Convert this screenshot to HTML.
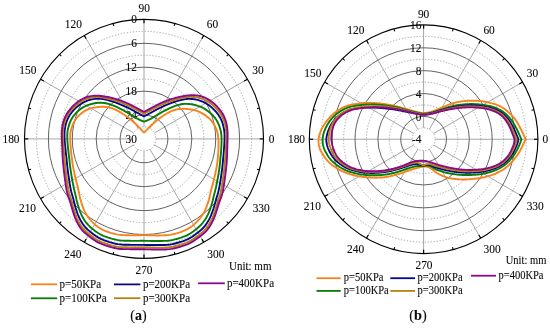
<!DOCTYPE html>
<html><head><meta charset="utf-8"><title>Polar plots</title>
<style>html,body{margin:0;padding:0;background:#fff}svg{display:block}</style>
</head><body>
<svg width="550" height="328" viewBox="0 0 550 328">
<style>
text{font-family:"Liberation Serif",serif;fill:#0a0a0a;stroke:#0a0a0a;stroke-width:.1}
.dot{fill:none;stroke:#969696;stroke-width:.85;stroke-dasharray:1.25 1.75}
.spoke{stroke:#9c9c9c;stroke-width:.9}
.sol{fill:none;stroke:#505050;stroke-width:.9}
.outer{fill:none;stroke:#000;stroke-width:1.15}
.tick{stroke:#000;stroke-width:1.2}
.mtick{stroke:#000;stroke-width:1.05}
.cv{fill:none;stroke-width:1.9;stroke-linejoin:round}
.lg{stroke-width:1.8}
</style>
<rect width="550" height="328" fill="#fff"/>
<circle cx="144.00" cy="138.90" r="11.95" class="dot"/>
<circle cx="144.00" cy="138.90" r="35.85" class="dot"/>
<circle cx="144.00" cy="138.90" r="59.75" class="dot"/>
<circle cx="144.00" cy="138.90" r="83.65" class="dot"/>
<circle cx="144.00" cy="138.90" r="107.55" class="dot"/>
<line x1="155.95" y1="138.90" x2="263.50" y2="138.90" class="spoke"/>
<line x1="154.35" y1="132.93" x2="247.49" y2="79.15" class="spoke"/>
<line x1="149.97" y1="128.55" x2="203.75" y2="35.41" class="spoke"/>
<line x1="144.00" y1="126.95" x2="144.00" y2="19.40" class="spoke"/>
<line x1="138.03" y1="128.55" x2="84.25" y2="35.41" class="spoke"/>
<line x1="133.65" y1="132.93" x2="40.51" y2="79.15" class="spoke"/>
<line x1="132.05" y1="138.90" x2="24.50" y2="138.90" class="spoke"/>
<line x1="133.65" y1="144.88" x2="40.51" y2="198.65" class="spoke"/>
<line x1="138.03" y1="149.25" x2="84.25" y2="242.39" class="spoke"/>
<line x1="144.00" y1="150.85" x2="144.00" y2="258.40" class="spoke"/>
<line x1="149.97" y1="149.25" x2="203.75" y2="242.39" class="spoke"/>
<line x1="154.35" y1="144.88" x2="247.49" y2="198.65" class="spoke"/>
<circle cx="144.00" cy="138.90" r="23.90" class="sol"/>
<circle cx="144.00" cy="138.90" r="47.80" class="sol"/>
<circle cx="144.00" cy="138.90" r="71.70" class="sol"/>
<circle cx="144.00" cy="138.90" r="95.60" class="sol"/>
<text transform="translate(136.90 23.46) scale(0.950 1)" font-size="12.00" text-anchor="end">0</text>
<text transform="translate(136.90 47.36) scale(0.950 1)" font-size="12.00" text-anchor="end">6</text>
<text transform="translate(136.90 71.26) scale(0.950 1)" font-size="12.00" text-anchor="end">12</text>
<text transform="translate(136.90 95.16) scale(0.950 1)" font-size="12.00" text-anchor="end">18</text>
<text transform="translate(136.90 119.06) scale(0.950 1)" font-size="12.00" text-anchor="end">24</text>
<text transform="translate(136.90 142.96) scale(0.950 1)" font-size="12.00" text-anchor="end">30</text>
<path d="M144.00 132.60L143.89 132.48L143.77 132.36L143.65 132.23L143.52 132.10L143.39 131.96L143.25 131.81L143.11 131.66L142.96 131.49L142.80 131.32L142.63 131.14L142.45 130.95L142.27 130.75L142.07 130.53L141.86 130.31L141.63 130.06L141.39 129.81L141.13 129.53L140.86 129.24L140.56 128.92L140.24 128.57L139.90 128.21L139.52 127.81L139.11 127.38L138.66 126.91L138.17 126.40L137.64 125.86L137.05 125.26L136.41 124.62L135.70 123.93L134.94 123.22L134.13 122.48L133.24 121.68L132.26 120.82L131.19 119.91L130.03 118.95L128.79 117.97L127.47 116.97L126.09 115.97L124.64 114.99L123.10 113.99L121.44 112.95L119.67 111.88L117.84 110.85L115.99 109.90L114.17 109.07L112.43 108.41L110.75 107.89L109.11 107.48L107.50 107.17L105.93 106.95L104.39 106.82L102.86 106.76L101.36 106.77L99.86 106.83L98.37 106.95L96.88 107.12L95.39 107.33L93.91 107.60L92.44 107.92L90.99 108.30L89.57 108.73L88.20 109.23L86.88 109.79L85.62 110.43L84.43 111.12L83.29 111.87L82.19 112.67L81.14 113.50L80.12 114.38L79.15 115.30L78.21 116.25L77.31 117.23L76.46 118.25L75.67 119.31L74.95 120.40L74.29 121.52L73.69 122.67L73.15 123.84L72.66 125.03L72.22 126.24L71.80 127.47L71.40 128.70L71.05 129.94L70.75 131.20L70.52 132.47L70.37 133.75L70.27 135.04L70.21 136.32L70.19 137.61L70.20 138.90L70.24 140.19L70.29 141.47L70.36 142.76L70.44 144.04L70.53 145.33L70.62 146.61L70.73 147.90L70.84 149.18L70.96 150.47L71.09 151.76L71.23 153.05L71.37 154.34L71.52 155.63L71.67 156.93L71.84 158.24L72.01 159.54L72.18 160.86L72.37 162.17L72.57 163.50L72.77 164.83L72.99 166.16L73.23 167.49L73.48 168.83L73.75 170.18L74.03 171.53L74.32 172.88L74.63 174.25L74.94 175.62L75.26 177.00L75.59 178.39L75.93 179.80L76.28 181.22L76.63 182.65L76.99 184.10L77.35 185.57L77.71 187.06L78.07 188.58L78.43 190.13L78.77 191.72L79.11 193.35L79.43 195.03L79.76 196.74L80.16 198.43L80.63 200.10L81.13 201.77L81.65 203.46L82.20 205.17L82.79 206.88L83.43 208.57L84.14 210.24L84.92 211.85L85.78 213.41L86.70 214.93L87.68 216.41L88.72 217.85L89.81 219.24L90.96 220.58L92.16 221.86L93.41 223.09L94.70 224.29L96.04 225.43L97.42 226.51L98.85 227.51L100.32 228.45L101.84 229.31L103.40 230.09L105.00 230.78L106.62 231.42L108.26 232.01L109.91 232.55L111.58 233.05L113.26 233.51L114.94 233.94L116.64 234.33L118.34 234.66L120.06 234.90L121.80 235.06L123.54 235.16L125.28 235.22L127.01 235.26L128.73 235.31L130.45 235.33L132.16 235.33L133.87 235.32L135.57 235.29L137.26 235.26L138.95 235.22L140.64 235.18L142.32 235.13L144.00 235.10L145.68 235.16L147.36 235.21L149.05 235.27L150.74 235.32L152.44 235.36L154.14 235.40L155.85 235.43L157.57 235.44L159.29 235.43L161.01 235.39L162.75 235.37L164.50 235.32L166.24 235.24L167.98 235.09L169.71 234.86L171.43 234.55L173.13 234.18L174.82 233.76L176.51 233.32L178.19 232.83L179.86 232.31L181.51 231.74L183.14 231.12L184.76 230.44L186.33 229.68L187.87 228.84L189.36 227.93L190.82 226.95L192.22 225.90L193.59 224.79L194.92 223.64L196.20 222.44L197.45 221.20L198.64 219.91L199.78 218.57L200.87 217.18L201.91 215.74L202.88 214.27L203.80 212.75L204.65 211.18L205.41 209.55L206.11 207.88L206.76 206.20L207.36 204.51L207.93 202.83L208.48 201.17L209.00 199.51L209.44 197.82L209.80 196.10L210.16 194.42L210.53 192.77L210.90 191.17L211.29 189.61L211.68 188.07L212.07 186.56L212.46 185.08L212.84 183.61L213.22 182.15L213.59 180.71L213.95 179.28L214.30 177.87L214.64 176.46L214.97 175.06L215.29 173.67L215.60 172.29L215.89 170.91L216.17 169.53L216.43 168.17L216.68 166.80L216.91 165.44L217.11 164.08L217.31 162.72L217.48 161.37L217.64 160.02L217.79 158.67L217.92 157.33L218.04 155.99L218.14 154.66L218.23 153.33L218.30 152.00L218.37 150.68L218.42 149.36L218.47 148.04L218.50 146.73L218.52 145.42L218.53 144.11L218.52 142.81L218.50 141.50L218.45 140.20L218.38 138.90L218.27 137.60L218.13 136.31L217.95 135.02L217.71 133.75L217.42 132.48L217.05 131.22L216.61 129.98L216.11 128.77L215.57 127.56L215.01 126.38L214.43 125.21L213.79 124.07L213.10 122.95L212.34 121.86L211.51 120.81L210.62 119.80L209.66 118.83L208.64 117.90L207.57 117.01L206.47 116.16L205.34 115.35L204.20 114.58L203.04 113.84L201.85 113.14L200.64 112.49L199.40 111.88L198.11 111.33L196.77 110.84L195.39 110.42L193.97 110.05L192.54 109.74L191.09 109.47L189.65 109.26L188.21 109.08L186.78 108.94L185.36 108.85L183.95 108.80L182.54 108.79L181.12 108.84L179.69 108.95L178.23 109.14L176.74 109.42L175.22 109.79L173.66 110.26L172.03 110.87L170.32 111.65L168.57 112.55L166.84 113.53L165.18 114.54L163.61 115.53L162.16 116.47L160.80 117.39L159.50 118.33L158.27 119.26L157.11 120.18L156.03 121.07L155.03 121.91L154.12 122.70L153.30 123.43L152.55 124.10L151.85 124.74L151.20 125.36L150.60 125.94L150.06 126.48L149.56 126.97L149.11 127.43L148.69 127.86L148.30 128.26L147.94 128.63L147.62 128.96L147.31 129.29L147.03 129.58L146.77 129.85L146.52 130.12L146.29 130.35L146.07 130.58L145.87 130.78L145.68 130.98L145.50 131.16L145.33 131.34L145.17 131.50L145.02 131.65L144.87 131.80L144.73 131.93L144.60 132.06L144.47 132.18L144.35 132.30L144.23 132.42L144.11 132.52L144.00 132.60Z" class="cv" stroke="#F8821C"/>
<path d="M144.00 121.60L143.70 121.49L143.39 121.38L143.08 121.26L142.76 121.14L142.43 121.01L142.11 120.88L141.77 120.75L141.43 120.60L141.08 120.46L140.72 120.30L140.35 120.14L139.98 119.97L139.59 119.79L139.19 119.59L138.77 119.38L138.34 119.17L137.90 118.93L137.43 118.69L136.95 118.43L136.45 118.14L135.91 117.82L135.34 117.47L134.75 117.11L134.13 116.72L133.47 116.32L132.78 115.89L132.05 115.44L131.27 114.96L130.45 114.45L129.58 113.93L128.67 113.39L127.70 112.81L126.66 112.20L125.56 111.56L124.38 110.89L123.14 110.19L121.84 109.49L120.48 108.79L119.07 108.11L117.58 107.42L116.01 106.70L114.36 105.99L112.66 105.29L110.92 104.65L109.19 104.09L107.47 103.63L105.79 103.27L104.15 103.02L102.54 102.86L100.96 102.78L99.40 102.79L97.88 102.86L96.38 103.01L94.90 103.23L93.45 103.50L92.02 103.84L90.60 104.22L89.20 104.66L87.82 105.14L86.46 105.68L85.14 106.27L83.85 106.92L82.61 107.62L81.43 108.38L80.31 109.20L79.22 110.06L78.18 110.96L77.17 111.90L76.20 112.87L75.27 113.88L74.37 114.93L73.52 116.00L72.72 117.11L71.99 118.25L71.32 119.42L70.71 120.63L70.15 121.85L69.65 123.10L69.20 124.36L68.81 125.64L68.47 126.94L68.15 128.24L67.87 129.55L67.64 130.87L67.46 132.20L67.34 133.54L67.28 134.88L67.26 136.22L67.27 137.56L67.30 138.90L67.37 140.24L67.46 141.57L67.57 142.91L67.68 144.24L67.80 145.57L67.93 146.89L68.07 148.22L68.21 149.55L68.35 150.88L68.49 152.21L68.65 153.55L68.81 154.88L68.97 156.22L69.15 157.56L69.34 158.91L69.46 160.27L69.60 161.65L69.74 163.03L69.90 164.42L70.06 165.81L70.24 167.22L70.42 168.63L70.63 170.05L70.84 171.47L71.06 172.91L71.29 174.36L71.54 175.82L71.79 177.30L72.04 178.79L72.31 180.29L72.59 181.81L72.88 183.34L73.17 184.90L73.49 186.46L73.82 188.04L74.18 189.63L74.56 191.23L74.96 192.84L75.37 194.48L75.76 196.16L76.14 197.89L76.51 199.67L76.93 201.45L77.40 203.22L77.89 205.01L78.43 206.80L79.00 208.60L79.62 210.40L80.30 212.18L81.04 213.94L81.85 215.65L82.74 217.32L83.69 218.94L84.70 220.52L85.79 222.04L86.94 223.50L88.17 224.88L89.46 226.19L90.80 227.44L92.19 228.65L93.61 229.81L95.06 230.94L96.55 232.02L98.08 233.05L99.66 234.00L101.28 234.86L102.94 235.63L104.64 236.32L106.36 236.96L108.09 237.55L109.84 238.10L111.60 238.62L113.37 239.09L115.14 239.53L116.93 239.92L118.74 240.23L120.55 240.46L122.38 240.61L124.21 240.69L126.04 240.75L127.86 240.79L129.68 240.82L131.48 240.84L133.28 240.86L135.08 240.86L136.87 240.85L138.66 240.83L140.44 240.81L142.22 240.79L144.00 240.78L145.78 240.84L147.56 240.87L149.35 240.91L151.14 240.94L152.93 240.97L154.73 240.99L156.54 240.99L158.35 240.98L160.17 240.97L161.99 240.95L163.83 240.92L165.67 240.85L167.51 240.72L169.34 240.51L171.15 240.22L172.95 239.85L174.73 239.43L176.51 238.97L178.28 238.47L180.04 237.93L181.79 237.35L183.52 236.73L185.24 236.05L186.92 235.29L188.56 234.45L190.15 233.52L191.70 232.51L193.21 231.45L194.69 230.35L196.14 229.21L197.56 228.04L198.94 226.82L200.27 225.55L201.54 224.20L202.74 222.79L203.87 221.30L204.94 219.77L205.94 218.18L206.88 216.55L207.75 214.87L208.55 213.15L209.28 211.40L209.95 209.62L210.57 207.84L211.16 206.06L211.70 204.28L212.21 202.51L212.67 200.73L213.08 198.95L213.49 197.21L213.91 195.52L214.35 193.87L214.79 192.24L215.20 190.63L215.59 189.03L215.95 187.43L216.29 185.85L216.61 184.27L216.92 182.72L217.23 181.18L217.51 179.65L217.79 178.14L218.06 176.64L218.32 175.15L218.57 173.67L218.80 172.20L219.03 170.75L219.24 169.30L219.44 167.86L219.62 166.42L219.79 165.00L219.94 163.57L220.08 162.16L220.20 160.75L220.31 159.35L220.47 157.97L220.62 156.59L220.75 155.21L220.87 153.84L220.98 152.47L221.07 151.11L221.16 149.74L221.25 148.38L221.33 147.03L221.40 145.67L221.46 144.32L221.51 142.96L221.55 141.61L221.57 140.25L221.58 138.90L221.52 137.55L221.45 136.20L221.34 134.85L221.19 133.50L220.98 132.17L220.71 130.84L220.38 129.52L220.01 128.22L219.59 126.93L219.15 125.65L218.67 124.39L218.12 123.14L217.52 121.93L216.86 120.73L216.14 119.57L215.36 118.44L214.51 117.34L213.60 116.29L212.64 115.27L211.64 114.28L210.61 113.33L209.56 112.41L208.48 111.53L207.38 110.68L206.24 109.87L205.08 109.11L203.87 108.39L202.62 107.73L201.32 107.13L199.99 106.57L198.63 106.07L197.26 105.62L195.87 105.21L194.48 104.85L193.07 104.54L191.65 104.28L190.21 104.08L188.76 103.93L187.28 103.85L185.79 103.84L184.27 103.90L182.72 104.04L181.13 104.27L179.52 104.60L177.85 105.05L176.18 105.57L174.51 106.19L172.86 106.85L171.26 107.54L169.74 108.22L168.31 108.88L166.94 109.53L165.63 110.20L164.37 110.87L163.17 111.52L162.04 112.16L160.97 112.77L159.97 113.34L159.03 113.88L158.15 114.38L157.32 114.88L156.52 115.35L155.77 115.80L155.06 116.22L154.39 116.62L153.75 117.00L153.14 117.37L152.56 117.71L152.00 118.05L151.48 118.36L150.98 118.62L150.51 118.87L150.05 119.11L149.61 119.33L149.19 119.54L148.78 119.74L148.38 119.92L148.00 120.09L147.62 120.25L147.26 120.41L146.91 120.55L146.56 120.68L146.22 120.82L145.89 120.94L145.56 121.06L145.24 121.18L144.92 121.29L144.61 121.40L144.30 121.51L144.00 121.60Z" class="cv" stroke="#067D06"/>
<path d="M144.00 116.41L143.60 116.19L143.20 115.97L142.79 115.75L142.36 115.52L141.93 115.28L141.49 115.04L141.04 114.80L140.58 114.55L140.10 114.29L139.62 114.03L139.11 113.76L138.60 113.48L138.06 113.18L137.51 112.87L136.94 112.55L136.35 112.23L135.74 111.88L135.11 111.53L134.45 111.16L133.77 110.78L133.06 110.39L132.32 109.99L131.56 109.58L130.76 109.17L129.94 108.75L129.09 108.32L128.20 107.89L127.27 107.44L126.31 106.98L125.30 106.52L124.26 106.05L123.17 105.56L122.03 105.07L120.84 104.56L119.59 104.04L118.29 103.52L116.94 102.99L115.54 102.48L114.10 101.97L112.60 101.48L111.05 101.00L109.45 100.53L107.81 100.09L106.12 99.67L104.41 99.31L102.72 99.03L101.04 98.84L99.39 98.73L97.78 98.72L96.19 98.78L94.63 98.92L93.10 99.13L91.61 99.42L90.16 99.78L88.74 100.21L87.37 100.70L86.02 101.25L84.70 101.84L83.41 102.49L82.14 103.19L80.91 103.93L79.71 104.71L78.55 105.55L77.44 106.44L76.37 107.37L75.35 108.33L74.35 109.34L73.39 110.37L72.47 111.44L71.58 112.54L70.73 113.67L69.92 114.83L69.18 116.02L68.50 117.25L67.87 118.50L67.31 119.78L66.80 121.08L66.33 122.39L65.92 123.72L65.59 125.07L65.30 126.44L65.06 127.81L64.86 129.18L64.70 130.56L64.56 131.95L64.48 133.34L64.46 134.73L64.48 136.12L64.52 137.51L64.56 138.90L64.65 140.28L64.76 141.67L64.88 143.05L65.01 144.42L65.14 145.80L65.28 147.17L65.42 148.55L65.56 149.92L65.69 151.30L65.84 152.68L65.98 154.06L66.14 155.45L66.30 156.84L66.48 158.23L66.66 159.62L66.78 161.04L66.90 162.47L67.04 163.90L67.19 165.35L67.35 166.80L67.52 168.26L67.69 169.73L67.88 171.21L68.08 172.70L68.28 174.21L68.49 175.73L68.71 177.26L68.94 178.81L69.18 180.37L69.43 181.95L69.69 183.55L69.96 185.17L70.25 186.80L70.56 188.44L70.90 190.09L71.28 191.73L71.72 193.37L72.20 195.00L72.69 196.65L73.16 198.35L73.60 200.10L74.04 201.90L74.50 203.71L74.99 205.54L75.50 207.40L76.06 209.26L76.65 211.13L77.28 213.00L77.99 214.84L78.76 216.65L79.59 218.44L80.49 220.18L81.47 221.88L82.51 223.53L83.63 225.11L84.83 226.62L86.12 228.03L87.47 229.36L88.88 230.63L90.34 231.84L91.83 233.02L93.34 234.18L94.87 235.32L96.44 236.41L98.06 237.43L99.72 238.34L101.44 239.16L103.19 239.90L104.97 240.57L106.77 241.20L108.57 241.79L110.39 242.34L112.22 242.85L114.06 243.33L115.90 243.75L117.77 244.11L119.65 244.39L121.54 244.57L123.44 244.68L125.34 244.74L127.23 244.77L129.12 244.80L130.99 244.85L132.86 244.88L134.73 244.90L136.59 244.91L138.44 244.91L140.30 244.90L142.15 244.90L144.00 244.90L145.85 244.96L147.70 244.98L149.56 245.00L151.42 245.02L153.29 245.04L155.16 245.04L157.03 245.04L158.91 245.02L160.81 245.01L162.71 245.00L164.62 244.96L166.53 244.88L168.43 244.72L170.32 244.47L172.20 244.13L174.06 243.72L175.91 243.26L177.75 242.76L179.58 242.22L181.40 241.65L183.21 241.03L185.00 240.37L186.77 239.65L188.50 238.84L190.18 237.94L191.82 236.94L193.40 235.86L194.96 234.74L196.50 233.60L198.01 232.45L199.50 231.27L200.95 230.03L202.34 228.74L203.66 227.36L204.91 225.88L206.07 224.34L207.17 222.73L208.19 221.06L209.15 219.35L210.03 217.59L210.85 215.81L211.61 213.99L212.30 212.14L212.93 210.28L213.54 208.44L214.09 206.59L214.63 204.76L215.13 202.94L215.60 201.14L216.08 199.38L216.59 197.68L217.11 196.02L217.62 194.37L218.08 192.73L218.50 191.07L218.87 189.40L219.21 187.74L219.53 186.09L219.82 184.46L220.11 182.84L220.38 181.24L220.64 179.65L220.88 178.07L221.12 176.51L221.35 174.97L221.57 173.43L221.77 171.91L221.97 170.40L222.16 168.90L222.33 167.41L222.50 165.93L222.65 164.45L222.78 162.99L222.90 161.52L223.00 160.07L223.17 158.64L223.33 157.21L223.47 155.79L223.59 154.37L223.71 152.95L223.82 151.54L223.92 150.13L224.02 148.72L224.12 147.32L224.22 145.92L224.31 144.52L224.40 143.11L224.48 141.71L224.54 140.31L224.59 138.90L224.59 137.49L224.58 136.09L224.55 134.68L224.48 133.27L224.35 131.87L224.16 130.47L223.95 129.08L223.69 127.70L223.40 126.32L223.07 124.96L222.69 123.60L222.23 122.27L221.71 120.96L221.15 119.66L220.53 118.39L219.86 117.15L219.12 115.93L218.32 114.75L217.46 113.60L216.56 112.49L215.62 111.41L214.66 110.35L213.66 109.33L212.64 108.34L211.59 107.38L210.50 106.47L209.37 105.59L208.20 104.77L206.98 103.99L205.74 103.26L204.46 102.57L203.15 101.94L201.82 101.35L200.47 100.81L199.08 100.33L197.67 99.91L196.21 99.56L194.72 99.27L193.19 99.07L191.63 98.93L190.05 98.87L188.45 98.88L186.81 98.98L185.14 99.17L183.45 99.45L181.75 99.81L180.06 100.23L178.42 100.67L176.82 101.14L175.28 101.62L173.79 102.12L172.35 102.62L170.95 103.13L169.61 103.66L168.31 104.18L167.07 104.69L165.89 105.20L164.75 105.69L163.67 106.17L162.63 106.64L161.63 107.10L160.67 107.55L159.75 108.00L158.86 108.43L158.01 108.86L157.19 109.27L156.40 109.68L155.64 110.09L154.91 110.48L154.20 110.87L153.52 111.24L152.87 111.61L152.24 111.95L151.63 112.30L151.04 112.62L150.47 112.94L149.92 113.24L149.39 113.53L148.88 113.81L148.38 114.08L147.89 114.33L147.42 114.58L146.96 114.83L146.50 115.07L146.06 115.30L145.63 115.53L145.21 115.76L144.80 115.99L144.40 116.20L144.00 116.41Z" class="cv" stroke="#07078C"/>
<path d="M144.00 113.75L143.56 113.52L143.11 113.27L142.64 113.02L142.17 112.77L141.69 112.51L141.20 112.25L140.70 111.99L140.18 111.72L139.65 111.44L139.11 111.16L138.55 110.87L137.98 110.57L137.39 110.25L136.78 109.92L136.15 109.58L135.49 109.24L134.82 108.87L134.12 108.50L133.40 108.12L132.65 107.73L131.88 107.33L131.08 106.92L130.25 106.51L129.40 106.10L128.51 105.69L127.60 105.28L126.66 104.86L125.68 104.44L124.66 104.02L123.61 103.59L122.53 103.16L121.40 102.73L120.22 102.29L119.01 101.85L117.74 101.40L116.43 100.95L115.07 100.50L113.66 100.07L112.21 99.65L110.72 99.24L109.19 98.85L107.61 98.49L105.99 98.14L104.33 97.82L102.64 97.54L100.94 97.31L99.24 97.16L97.57 97.09L95.94 97.12L94.33 97.22L92.75 97.39L91.19 97.64L89.68 97.97L88.22 98.37L86.80 98.85L85.43 99.39L84.09 99.99L82.78 100.65L81.51 101.35L80.26 102.10L79.05 102.90L77.87 103.74L76.73 104.62L75.63 105.56L74.58 106.53L73.56 107.54L72.57 108.58L71.62 109.66L70.70 110.76L69.81 111.90L68.96 113.06L68.16 114.26L67.43 115.49L66.76 116.75L66.14 118.04L65.58 119.35L65.08 120.68L64.62 122.03L64.21 123.39L63.89 124.77L63.63 126.17L63.41 127.57L63.24 128.98L63.09 130.40L62.97 131.81L62.90 133.23L62.88 134.65L62.90 136.07L62.95 137.49L62.98 138.90L63.06 140.31L63.15 141.72L63.25 143.13L63.36 144.54L63.47 145.95L63.59 147.35L63.71 148.76L63.82 150.17L63.93 151.58L64.04 153.00L64.15 154.42L64.27 155.85L64.40 157.28L64.55 158.71L64.70 160.15L64.81 161.61L64.93 163.07L65.07 164.55L65.22 166.03L65.37 167.52L65.53 169.02L65.70 170.53L65.88 172.06L66.06 173.60L66.26 175.15L66.46 176.72L66.66 178.30L66.88 179.91L67.10 181.52L67.34 183.16L67.59 184.81L67.85 186.48L68.13 188.17L68.44 189.86L68.79 191.56L69.20 193.24L69.68 194.91L70.21 196.55L70.76 198.21L71.29 199.92L71.78 201.68L72.26 203.49L72.75 205.34L73.27 207.21L73.80 209.10L74.37 211.01L74.97 212.92L75.63 214.83L76.36 216.72L77.15 218.57L78.01 220.40L78.93 222.19L79.92 223.94L80.99 225.62L82.14 227.24L83.38 228.78L84.70 230.21L86.11 231.54L87.57 232.81L89.08 234.02L90.62 235.20L92.17 236.38L93.74 237.55L95.34 238.68L96.98 239.73L98.68 240.68L100.44 241.53L102.23 242.28L104.05 242.97L105.89 243.61L107.74 244.22L109.60 244.79L111.47 245.32L113.34 245.81L115.24 246.25L117.14 246.63L119.06 246.93L121.00 247.12L122.94 247.24L124.89 247.29L126.83 247.32L128.76 247.34L130.68 247.39L132.59 247.43L134.50 247.45L136.41 247.46L138.31 247.46L140.21 247.46L142.11 247.45L144.00 247.45L145.90 247.52L147.79 247.54L149.70 247.57L151.60 247.59L153.51 247.61L155.43 247.61L157.35 247.60L159.27 247.59L161.21 247.59L163.17 247.59L165.12 247.56L167.08 247.48L169.03 247.30L170.96 247.03L172.88 246.67L174.78 246.24L176.67 245.77L178.56 245.26L180.43 244.70L182.29 244.11L184.14 243.48L185.98 242.80L187.79 242.06L189.56 241.22L191.28 240.28L192.94 239.24L194.56 238.13L196.15 236.98L197.72 235.82L199.29 234.66L200.83 233.47L202.32 232.24L203.77 230.93L205.13 229.53L206.41 228.03L207.60 226.44L208.72 224.79L209.76 223.07L210.73 221.31L211.64 219.51L212.48 217.68L213.26 215.82L213.96 213.93L214.62 212.03L215.23 210.13L215.81 208.24L216.36 206.38L216.89 204.53L217.41 202.72L217.94 200.95L218.50 199.23L219.09 197.56L219.65 195.91L220.16 194.23L220.60 192.54L220.98 190.83L221.32 189.11L221.63 187.41L221.92 185.72L222.19 184.04L222.45 182.39L222.70 180.74L222.93 179.12L223.16 177.51L223.37 175.91L223.58 174.33L223.78 172.76L223.96 171.21L224.14 169.66L224.31 168.13L224.48 166.61L224.63 165.10L224.76 163.59L224.88 162.09L224.98 160.60L225.13 159.13L225.25 157.66L225.37 156.20L225.47 154.74L225.56 153.28L225.64 151.83L225.72 150.39L225.80 148.94L225.89 147.51L225.98 146.07L226.07 144.64L226.15 143.21L226.22 141.77L226.28 140.34L226.33 138.90L226.34 137.46L226.35 136.02L226.35 134.58L226.30 133.14L226.20 131.71L226.05 130.28L225.87 128.85L225.67 127.42L225.43 126.00L225.14 124.59L224.78 123.20L224.35 121.82L223.86 120.46L223.33 119.12L222.74 117.80L222.09 116.51L221.39 115.24L220.62 114.00L219.80 112.80L218.92 111.63L218.00 110.49L217.05 109.38L216.07 108.31L215.06 107.26L214.02 106.25L212.95 105.27L211.83 104.34L210.67 103.45L209.47 102.61L208.23 101.82L206.96 101.07L205.66 100.37L204.33 99.72L202.96 99.13L201.56 98.59L200.12 98.13L198.63 97.73L197.10 97.42L195.53 97.18L193.92 97.01L192.29 96.92L190.64 96.90L188.95 96.98L187.24 97.14L185.52 97.38L183.81 97.67L182.13 98.01L180.50 98.36L178.92 98.73L177.37 99.13L175.87 99.55L174.41 99.98L172.99 100.43L171.62 100.88L170.30 101.34L169.03 101.80L167.80 102.25L166.62 102.70L165.49 103.14L164.39 103.58L163.34 104.01L162.32 104.44L161.34 104.87L160.39 105.30L159.47 105.71L158.59 106.13L157.74 106.54L156.91 106.96L156.11 107.36L155.33 107.76L154.59 108.16L153.87 108.54L153.17 108.91L152.50 109.27L151.85 109.61L151.22 109.95L150.61 110.27L150.02 110.59L149.44 110.89L148.89 111.18L148.35 111.46L147.82 111.73L147.30 112.00L146.80 112.26L146.31 112.52L145.83 112.78L145.36 113.03L144.89 113.28L144.44 113.52L144.00 113.75Z" class="cv" stroke="#B8820F"/>
<path d="M144.00 112.00L143.53 111.74L143.04 111.46L142.55 111.19L142.04 110.90L141.53 110.62L141.00 110.33L140.46 110.03L139.90 109.73L139.33 109.43L138.75 109.12L138.15 108.80L137.53 108.47L136.89 108.12L136.24 107.76L135.56 107.39L134.86 107.01L134.13 106.62L133.38 106.22L132.61 105.82L131.81 105.40L130.98 104.97L130.12 104.55L129.24 104.12L128.32 103.69L127.39 103.27L126.42 102.86L125.42 102.44L124.39 102.03L123.33 101.61L122.24 101.20L121.10 100.79L119.93 100.39L118.73 99.98L117.48 99.58L116.19 99.18L114.85 98.78L113.47 98.39L112.05 98.01L110.59 97.65L109.09 97.30L107.56 96.98L106.00 96.70L104.40 96.44L102.75 96.19L101.07 95.97L99.37 95.80L97.66 95.69L95.99 95.67L94.35 95.74L92.73 95.88L91.14 96.09L89.58 96.38L88.07 96.75L86.60 97.20L85.19 97.72L83.83 98.32L82.51 98.97L81.23 99.67L79.97 100.43L78.75 101.23L77.57 102.08L76.41 102.96L75.29 103.89L74.22 104.86L73.18 105.88L72.17 106.92L71.20 108.00L70.26 109.11L69.35 110.24L68.47 111.41L67.63 112.60L66.85 113.83L66.12 115.09L65.47 116.38L64.87 117.70L64.32 119.03L63.83 120.39L63.37 121.76L62.98 123.15L62.67 124.56L62.42 125.98L62.24 127.41L62.09 128.84L61.96 130.28L61.85 131.71L61.79 133.15L61.78 134.59L61.82 136.03L61.86 137.47L61.90 138.90L61.94 140.33L62.00 141.76L62.06 143.19L62.12 144.63L62.20 146.06L62.27 147.49L62.35 148.93L62.41 150.37L62.46 151.81L62.52 153.27L62.58 154.73L62.65 156.19L62.73 157.66L62.82 159.14L62.92 160.63L63.03 162.12L63.16 163.61L63.31 165.12L63.47 166.63L63.63 168.15L63.81 169.68L63.98 171.23L64.16 172.79L64.35 174.36L64.55 175.95L64.75 177.55L64.96 179.17L65.18 180.81L65.41 182.46L65.65 184.14L65.90 185.83L66.17 187.53L66.46 189.25L66.79 190.98L67.17 192.70L67.61 194.40L68.13 196.08L68.71 197.72L69.32 199.37L69.90 201.07L70.45 202.83L70.98 204.65L71.51 206.50L72.05 208.38L72.60 210.30L73.18 212.23L73.80 214.18L74.47 216.12L75.21 218.03L76.02 219.91L76.89 221.77L77.83 223.60L78.83 225.38L79.92 227.10L81.09 228.74L82.35 230.30L83.71 231.74L85.15 233.08L86.65 234.35L88.19 235.56L89.76 236.75L91.34 237.93L92.93 239.13L94.55 240.28L96.22 241.36L97.95 242.34L99.73 243.20L101.55 243.97L103.40 244.68L105.26 245.33L107.14 245.95L109.03 246.53L110.93 247.07L112.84 247.58L114.76 248.03L116.69 248.44L118.64 248.75L120.61 248.95L122.58 249.07L124.56 249.13L126.54 249.14L128.50 249.17L130.46 249.21L132.40 249.26L134.34 249.28L136.28 249.30L138.21 249.30L140.14 249.30L142.07 249.30L144.00 249.30L145.93 249.37L147.86 249.39L149.79 249.42L151.73 249.44L153.67 249.46L155.62 249.46L157.57 249.45L159.53 249.43L161.51 249.44L163.49 249.45L165.48 249.43L167.47 249.33L169.45 249.15L171.42 248.87L173.36 248.49L175.30 248.05L177.22 247.56L179.13 247.03L181.04 246.47L182.93 245.86L184.81 245.22L186.67 244.52L188.51 243.76L190.31 242.91L192.05 241.94L193.74 240.88L195.38 239.73L196.99 238.56L198.59 237.39L200.19 236.22L201.76 235.03L203.30 233.79L204.77 232.48L206.17 231.07L207.47 229.54L208.68 227.93L209.81 226.24L210.87 224.49L211.85 222.69L212.76 220.85L213.62 218.99L214.41 217.10L215.13 215.18L215.80 213.25L216.42 211.32L217.02 209.41L217.60 207.53L218.17 205.68L218.73 203.86L219.32 202.10L219.93 200.39L220.58 198.73L221.20 197.07L221.75 195.39L222.22 193.67L222.63 191.94L222.99 190.19L223.31 188.46L223.60 186.73L223.88 185.02L224.15 183.33L224.39 181.65L224.63 179.98L224.86 178.34L225.08 176.71L225.29 175.09L225.49 173.49L225.68 171.90L225.87 170.33L226.05 168.76L226.22 167.21L226.39 165.67L226.54 164.13L226.67 162.60L226.78 161.08L226.87 159.56L226.95 158.05L227.02 156.55L227.07 155.05L227.11 153.56L227.15 152.07L227.19 150.59L227.23 149.12L227.28 147.65L227.33 146.19L227.38 144.73L227.43 143.27L227.47 141.81L227.50 140.36L227.52 138.90L227.54 137.44L227.57 135.98L227.59 134.52L227.57 133.06L227.50 131.59L227.38 130.14L227.24 128.68L227.08 127.22L226.87 125.77L226.62 124.33L226.30 122.90L225.89 121.49L225.43 120.10L224.92 118.72L224.37 117.37L223.76 116.03L223.09 114.72L222.35 113.44L221.55 112.20L220.71 110.98L219.81 109.80L218.89 108.64L217.93 107.52L216.95 106.42L215.93 105.36L214.87 104.33L213.77 103.35L212.63 102.41L211.45 101.51L210.24 100.66L208.99 99.85L207.70 99.09L206.38 98.39L205.02 97.74L203.62 97.15L202.17 96.64L200.67 96.20L199.11 95.84L197.51 95.56L195.88 95.37L194.22 95.24L192.55 95.19L190.83 95.23L189.09 95.35L187.36 95.54L185.64 95.78L183.96 96.05L182.32 96.34L180.74 96.64L179.18 96.98L177.65 97.34L176.17 97.73L174.72 98.13L173.32 98.54L171.97 98.96L170.66 99.38L169.39 99.80L168.17 100.23L166.98 100.65L165.83 101.08L164.72 101.51L163.65 101.94L162.61 102.38L161.60 102.81L160.63 103.23L159.69 103.66L158.77 104.10L157.88 104.53L157.03 104.97L156.20 105.39L155.39 105.81L154.62 106.22L153.87 106.62L153.14 107.01L152.44 107.39L151.76 107.76L151.11 108.12L150.47 108.47L149.85 108.80L149.25 109.12L148.67 109.43L148.10 109.73L147.54 110.03L147.00 110.33L146.47 110.62L145.96 110.90L145.45 111.19L144.96 111.46L144.47 111.74L144.00 112.00Z" class="cv" stroke="#8B078B"/>
<circle cx="144.00" cy="138.90" r="119.50" class="outer"/>
<line x1="259.70" y1="138.90" x2="263.50" y2="138.90" class="tick"/>
<line x1="256.92" y1="108.64" x2="259.43" y2="107.97" class="mtick"/>
<line x1="244.20" y1="81.05" x2="247.49" y2="79.15" class="tick"/>
<line x1="226.66" y1="56.24" x2="228.50" y2="54.40" class="mtick"/>
<line x1="201.85" y1="38.70" x2="203.75" y2="35.41" class="tick"/>
<line x1="174.26" y1="25.98" x2="174.93" y2="23.47" class="mtick"/>
<line x1="144.00" y1="23.20" x2="144.00" y2="19.40" class="tick"/>
<line x1="113.74" y1="25.98" x2="113.07" y2="23.47" class="mtick"/>
<line x1="86.15" y1="38.70" x2="84.25" y2="35.41" class="tick"/>
<line x1="61.34" y1="56.24" x2="59.50" y2="54.40" class="mtick"/>
<line x1="43.80" y1="81.05" x2="40.51" y2="79.15" class="tick"/>
<line x1="31.08" y1="108.64" x2="28.57" y2="107.97" class="mtick"/>
<line x1="28.30" y1="138.90" x2="24.50" y2="138.90" class="tick"/>
<line x1="31.08" y1="169.16" x2="28.57" y2="169.83" class="mtick"/>
<line x1="43.80" y1="196.75" x2="40.51" y2="198.65" class="tick"/>
<line x1="61.34" y1="221.56" x2="59.50" y2="223.40" class="mtick"/>
<line x1="86.15" y1="239.10" x2="84.25" y2="242.39" class="tick"/>
<line x1="113.74" y1="251.82" x2="113.07" y2="254.33" class="mtick"/>
<line x1="144.00" y1="254.60" x2="144.00" y2="258.40" class="tick"/>
<line x1="174.26" y1="251.82" x2="174.93" y2="254.33" class="mtick"/>
<line x1="201.85" y1="239.10" x2="203.75" y2="242.39" class="tick"/>
<line x1="226.66" y1="221.56" x2="228.50" y2="223.40" class="mtick"/>
<line x1="244.20" y1="196.75" x2="247.49" y2="198.65" class="tick"/>
<line x1="256.92" y1="169.16" x2="259.43" y2="169.83" class="mtick"/>
<text transform="translate(144.20 11.56) scale(0.950 1)" font-size="12.00" text-anchor="middle">90</text>
<text transform="translate(212.50 28.26) scale(0.950 1)" font-size="12.00" text-anchor="middle">60</text>
<text transform="translate(258.00 73.96) scale(0.950 1)" font-size="12.00" text-anchor="middle">30</text>
<text transform="translate(271.50 143.06) scale(0.950 1)" font-size="12.00" text-anchor="middle">0</text>
<text transform="translate(261.20 212.06) scale(0.950 1)" font-size="12.00" text-anchor="middle">330</text>
<text transform="translate(215.80 257.86) scale(0.950 1)" font-size="12.00" text-anchor="middle">300</text>
<text transform="translate(144.00 274.26) scale(0.950 1)" font-size="12.00" text-anchor="middle">270</text>
<text transform="translate(72.90 258.16) scale(0.950 1)" font-size="12.00" text-anchor="middle">240</text>
<text transform="translate(27.50 212.06) scale(0.950 1)" font-size="12.00" text-anchor="middle">210</text>
<text transform="translate(11.00 142.86) scale(0.950 1)" font-size="12.00" text-anchor="middle">180</text>
<text transform="translate(27.80 74.36) scale(0.950 1)" font-size="12.00" text-anchor="middle">150</text>
<text transform="translate(73.40 28.36) scale(0.950 1)" font-size="12.00" text-anchor="middle">120</text>
<line x1="30.90" y1="284.30" x2="57.20" y2="284.30" stroke="#F8821C" class="lg"/><text transform="translate(59.50 287.80) scale(0.917 1)" font-size="11.99" text-anchor="start">p=50KPa</text>
<line x1="30.90" y1="298.30" x2="57.20" y2="298.30" stroke="#067D06" class="lg"/><text transform="translate(59.50 301.80) scale(0.917 1)" font-size="11.99" text-anchor="start">p=100KPa</text>
<line x1="114.00" y1="284.40" x2="140.40" y2="284.40" stroke="#07078C" class="lg"/><text transform="translate(142.90 287.90) scale(0.917 1)" font-size="11.99" text-anchor="start">p=200KPa</text>
<line x1="114.00" y1="298.20" x2="140.40" y2="298.20" stroke="#B8820F" class="lg"/><text transform="translate(142.90 301.90) scale(0.917 1)" font-size="11.99" text-anchor="start">p=300KPa</text>
<line x1="198.10" y1="283.30" x2="224.80" y2="283.30" stroke="#8B078B" class="lg"/><text transform="translate(226.90 286.70) scale(0.917 1)" font-size="11.99" text-anchor="start">p=400KPa</text>
<text transform="translate(229.00 269.60) scale(0.917 1)" font-size="11.99" text-anchor="start">Unit: mm</text>
<text x="138.4" y="320.3" font-size="14" text-anchor="middle">(<tspan font-weight="bold">a</tspan>)</text>
<circle cx="423.60" cy="139.25" r="11.43" class="dot"/>
<circle cx="423.60" cy="139.25" r="34.29" class="dot"/>
<circle cx="423.60" cy="139.25" r="57.15" class="dot"/>
<circle cx="423.60" cy="139.25" r="80.01" class="dot"/>
<circle cx="423.60" cy="139.25" r="102.87" class="dot"/>
<line x1="435.03" y1="139.25" x2="537.90" y2="139.25" class="spoke"/>
<line x1="433.50" y1="133.53" x2="522.59" y2="82.10" class="spoke"/>
<line x1="429.31" y1="129.35" x2="480.75" y2="40.26" class="spoke"/>
<line x1="423.60" y1="127.82" x2="423.60" y2="24.95" class="spoke"/>
<line x1="417.89" y1="129.35" x2="366.45" y2="40.26" class="spoke"/>
<line x1="413.70" y1="133.53" x2="324.61" y2="82.10" class="spoke"/>
<line x1="412.17" y1="139.25" x2="309.30" y2="139.25" class="spoke"/>
<line x1="413.70" y1="144.97" x2="324.61" y2="196.40" class="spoke"/>
<line x1="417.88" y1="149.15" x2="366.45" y2="238.24" class="spoke"/>
<line x1="423.60" y1="150.68" x2="423.60" y2="253.55" class="spoke"/>
<line x1="429.31" y1="149.15" x2="480.75" y2="238.24" class="spoke"/>
<line x1="433.50" y1="144.97" x2="522.59" y2="196.40" class="spoke"/>
<circle cx="423.60" cy="139.25" r="22.86" class="sol"/>
<circle cx="423.60" cy="139.25" r="45.72" class="sol"/>
<circle cx="423.60" cy="139.25" r="68.58" class="sol"/>
<circle cx="423.60" cy="139.25" r="91.44" class="sol"/>
<text transform="translate(421.50 29.18) scale(0.960 1)" font-size="11.90" text-anchor="end">16</text>
<text transform="translate(421.50 52.04) scale(0.960 1)" font-size="11.90" text-anchor="end">12</text>
<text transform="translate(421.50 74.90) scale(0.960 1)" font-size="11.90" text-anchor="end">8</text>
<text transform="translate(421.50 97.76) scale(0.960 1)" font-size="11.90" text-anchor="end">4</text>
<text transform="translate(421.50 120.62) scale(0.960 1)" font-size="11.90" text-anchor="end">0</text>
<text transform="translate(421.50 143.48) scale(0.960 1)" font-size="11.90" text-anchor="end">-4</text>
<path d="M525.60 139.65L525.35 138.76L524.96 137.88L524.57 137.01L524.18 136.14L523.79 135.28L523.40 134.42L523.02 133.57L522.63 132.73L522.23 131.89L521.84 131.06L521.43 130.23L521.02 129.41L520.60 128.60L520.17 127.79L519.75 126.99L519.32 126.20L518.90 125.41L518.47 124.62L518.03 123.85L517.58 123.08L517.13 122.32L516.66 121.56L516.18 120.81L515.68 120.08L515.17 119.35L514.63 118.63L514.07 117.93L513.49 117.24L512.89 116.56L512.28 115.89L511.66 115.23L511.02 114.58L510.38 113.95L509.72 113.32L509.06 112.71L508.39 112.10L507.71 111.51L507.02 110.93L506.32 110.36L505.62 109.80L504.90 109.25L504.17 108.72L503.43 108.20L502.66 107.71L501.88 107.23L501.07 106.77L500.24 106.33L499.39 105.91L498.52 105.51L497.62 105.13L496.70 104.78L495.76 104.46L494.80 104.15L493.84 103.86L492.87 103.59L491.89 103.34L490.93 103.09L489.96 102.86L489.01 102.64L488.07 102.43L487.15 102.22L486.22 102.02L485.31 101.84L484.39 101.66L483.48 101.50L482.56 101.36L481.65 101.23L480.73 101.12L479.81 101.02L478.89 100.94L477.97 100.87L477.05 100.81L476.15 100.77L475.25 100.73L474.36 100.70L473.47 100.68L472.60 100.68L471.73 100.68L470.87 100.68L470.02 100.70L469.17 100.73L468.33 100.77L467.50 100.81L466.67 100.87L465.85 100.94L465.03 101.01L464.23 101.09L463.44 101.18L462.65 101.27L461.88 101.37L461.11 101.48L460.35 101.60L459.59 101.72L458.85 101.85L458.11 101.99L457.38 102.14L456.65 102.30L455.93 102.46L455.21 102.63L454.51 102.82L453.80 103.01L453.10 103.22L452.40 103.44L451.70 103.68L451.02 103.92L450.34 104.17L449.67 104.42L449.01 104.68L448.36 104.94L447.73 105.19L447.11 105.45L446.50 105.70L445.91 105.94L445.33 106.18L444.77 106.41L444.23 106.64L443.69 106.86L443.17 107.07L442.67 107.28L442.18 107.47L441.70 107.66L441.23 107.84L440.77 108.03L440.31 108.22L439.86 108.41L439.42 108.60L438.99 108.78L438.57 108.96L438.15 109.14L437.74 109.32L437.35 109.49L436.95 109.66L436.57 109.82L436.20 109.98L435.83 110.13L435.47 110.28L435.11 110.42L434.77 110.56L434.43 110.69L434.09 110.82L433.77 110.94L433.45 111.06L433.13 111.17L432.82 111.27L432.52 111.37L432.22 111.46L431.92 111.55L431.63 111.64L431.35 111.72L431.06 111.80L430.78 111.87L430.51 111.95L430.23 112.02L429.96 112.08L429.70 112.15L429.43 112.21L429.17 112.27L428.91 112.33L428.65 112.39L428.40 112.44L428.14 112.49L427.89 112.54L427.64 112.59L427.40 112.64L427.15 112.68L426.91 112.72L426.66 112.76L426.42 112.80L426.18 112.84L425.94 112.87L425.71 112.90L425.47 112.93L425.23 112.96L425.00 112.99L424.76 113.01L424.53 113.03L424.30 113.05L424.06 113.07L423.83 113.08L423.60 113.09L423.37 113.10L423.14 113.11L422.91 113.11L422.67 113.11L422.44 113.10L422.21 113.09L421.97 113.07L421.74 113.05L421.50 113.02L421.27 112.98L421.03 112.94L420.79 112.89L420.55 112.84L420.30 112.78L420.05 112.72L419.81 112.66L419.56 112.59L419.30 112.52L419.05 112.46L418.79 112.39L418.54 112.32L418.28 112.26L418.01 112.20L417.75 112.13L417.49 112.07L417.22 112.01L416.95 111.95L416.68 111.88L416.40 111.82L416.12 111.75L415.84 111.68L415.56 111.61L415.27 111.54L414.98 111.47L414.69 111.39L414.39 111.32L414.09 111.24L413.79 111.16L413.48 111.08L413.17 111.00L412.86 110.91L412.54 110.83L412.21 110.74L411.89 110.66L411.55 110.57L411.22 110.48L410.88 110.39L410.53 110.29L410.18 110.20L409.82 110.10L409.46 110.00L409.09 109.90L408.72 109.80L408.34 109.70L407.95 109.59L407.56 109.49L407.16 109.38L406.76 109.26L406.34 109.15L405.92 109.02L405.48 108.89L405.04 108.76L404.59 108.63L404.13 108.49L403.66 108.35L403.18 108.20L402.68 108.05L402.18 107.90L401.67 107.75L401.15 107.59L400.62 107.44L400.08 107.28L399.53 107.12L398.97 106.97L398.40 106.81L397.83 106.66L397.24 106.51L396.65 106.37L396.05 106.22L395.44 106.09L394.82 105.95L394.19 105.82L393.55 105.68L392.89 105.55L392.23 105.41L391.55 105.28L390.86 105.15L390.16 105.02L389.44 104.89L388.71 104.76L387.97 104.63L387.21 104.51L386.44 104.39L385.65 104.26L384.86 104.15L384.04 104.03L383.22 103.92L382.38 103.81L381.52 103.71L380.66 103.62L379.78 103.52L378.88 103.44L377.97 103.35L377.04 103.27L376.10 103.20L375.14 103.13L374.17 103.07L373.18 103.02L372.18 102.97L371.17 102.94L370.14 102.91L369.11 102.89L368.07 102.89L367.02 102.91L365.97 102.93L364.92 102.98L363.87 103.05L362.81 103.13L361.76 103.22L360.70 103.33L359.63 103.46L358.56 103.60L357.48 103.75L356.39 103.91L355.28 104.09L354.16 104.27L353.01 104.46L351.85 104.65L350.69 104.87L349.55 105.12L348.44 105.40L347.37 105.71L346.34 106.06L345.35 106.44L344.40 106.85L343.48 107.28L342.57 107.73L341.68 108.20L340.80 108.69L339.94 109.20L339.09 109.72L338.25 110.26L337.42 110.81L336.60 111.38L335.80 111.97L335.01 112.57L334.24 113.18L333.49 113.81L332.75 114.45L332.02 115.11L331.32 115.78L330.63 116.47L329.95 117.17L329.29 117.88L328.65 118.60L328.02 119.33L327.41 120.08L326.82 120.84L326.24 121.61L325.69 122.39L325.15 123.17L324.63 123.97L324.12 124.78L323.62 125.60L323.14 126.42L322.67 127.26L322.22 128.10L321.79 128.95L321.37 129.81L320.97 130.67L320.60 131.54L320.25 132.42L319.94 133.31L319.65 134.20L319.40 135.10L319.17 136.00L318.97 136.91L318.81 137.82L318.67 138.73L318.56 139.65L318.51 140.57L318.50 141.48L318.54 142.40L318.63 143.32L318.76 144.23L318.92 145.14L319.12 146.04L319.33 146.94L319.57 147.84L319.85 148.73L320.18 149.61L320.58 150.48L321.03 151.34L321.51 152.18L322.02 153.02L322.52 153.86L323.03 154.68L323.55 155.50L324.08 156.30L324.62 157.10L325.18 157.89L325.76 158.67L326.36 159.43L326.99 160.19L327.64 160.92L328.34 161.64L329.07 162.34L329.82 163.03L330.59 163.70L331.38 164.36L332.18 165.00L333.00 165.63L333.83 166.24L334.68 166.84L335.53 167.42L336.40 167.98L337.29 168.53L338.18 169.06L339.09 169.58L340.01 170.07L340.95 170.55L341.89 171.01L342.85 171.46L343.81 171.89L344.78 172.30L345.76 172.69L346.74 173.07L347.73 173.43L348.72 173.77L349.72 174.10L350.73 174.41L351.73 174.70L352.74 174.98L353.75 175.24L354.77 175.48L355.78 175.71L356.80 175.92L357.82 176.11L358.83 176.30L359.84 176.46L360.84 176.62L361.84 176.76L362.83 176.89L363.81 177.01L364.78 177.12L365.75 177.22L366.71 177.31L367.66 177.38L368.59 177.45L369.52 177.51L370.45 177.56L371.36 177.61L372.26 177.64L373.16 177.66L374.04 177.68L374.92 177.69L375.78 177.69L376.64 177.68L377.49 177.66L378.33 177.64L379.16 177.61L379.98 177.57L380.79 177.52L381.60 177.47L382.39 177.41L383.18 177.34L383.96 177.26L384.74 177.18L385.50 177.09L386.27 176.98L387.03 176.86L387.79 176.73L388.54 176.59L389.29 176.44L390.04 176.28L390.77 176.11L391.50 175.94L392.21 175.76L392.92 175.57L393.61 175.39L394.29 175.20L394.96 175.01L395.62 174.83L396.26 174.64L396.89 174.46L397.51 174.28L398.11 174.10L398.69 173.93L399.26 173.77L399.82 173.61L400.38 173.44L400.92 173.27L401.46 173.10L401.99 172.93L402.51 172.75L403.02 172.58L403.53 172.40L404.03 172.23L404.51 172.05L404.99 171.88L405.46 171.71L405.92 171.54L406.37 171.38L406.82 171.21L407.25 171.06L407.67 170.91L408.09 170.76L408.50 170.61L408.90 170.48L409.29 170.34L409.67 170.21L410.05 170.09L410.42 169.97L410.78 169.85L411.14 169.74L411.48 169.64L411.83 169.53L412.17 169.43L412.50 169.33L412.83 169.23L413.16 169.14L413.48 169.04L413.80 168.94L414.11 168.85L414.42 168.76L414.73 168.67L415.03 168.58L415.33 168.49L415.63 168.40L415.92 168.32L416.21 168.23L416.49 168.15L416.78 168.07L417.06 167.99L417.33 167.91L417.61 167.84L417.88 167.76L418.15 167.69L418.42 167.62L418.68 167.55L418.94 167.48L419.20 167.41L419.46 167.35L419.72 167.29L419.97 167.23L420.22 167.17L420.47 167.11L420.72 167.06L420.97 167.00L421.21 166.95L421.46 166.90L421.70 166.86L421.94 166.81L422.18 166.77L422.42 166.74L422.66 166.70L422.89 166.67L423.13 166.64L423.36 166.61L423.60 166.59L423.83 166.57L424.07 166.56L424.30 166.55L424.54 166.54L424.77 166.53L425.01 166.53L425.24 166.53L425.48 166.54L425.72 166.55L425.96 166.57L426.20 166.60L426.44 166.63L426.68 166.68L426.93 166.73L427.17 166.79L427.42 166.86L427.68 166.94L427.94 167.03L428.20 167.13L428.46 167.24L428.74 167.36L429.01 167.48L429.29 167.61L429.57 167.75L429.86 167.88L430.15 168.03L430.45 168.18L430.76 168.36L431.08 168.56L431.40 168.77L431.74 169.01L432.09 169.27L432.45 169.54L432.83 169.83L433.21 170.14L433.61 170.46L434.02 170.80L434.44 171.14L434.87 171.48L435.31 171.83L435.76 172.17L436.21 172.50L436.66 172.82L437.12 173.12L437.58 173.40L438.04 173.67L438.50 173.91L438.96 174.16L439.44 174.40L439.92 174.64L440.41 174.88L440.90 175.12L441.40 175.35L441.91 175.58L442.42 175.80L442.94 176.02L443.47 176.24L444.00 176.45L444.53 176.65L445.07 176.84L445.62 177.03L446.17 177.21L446.72 177.39L447.28 177.55L447.84 177.71L448.41 177.85L448.98 177.99L449.55 178.12L450.12 178.24L450.70 178.36L451.28 178.46L451.87 178.56L452.46 178.66L453.06 178.75L453.66 178.83L454.27 178.91L454.88 178.98L455.50 179.05L456.13 179.11L456.76 179.17L457.40 179.22L458.04 179.27L458.69 179.31L459.35 179.35L460.02 179.39L460.69 179.42L461.37 179.45L462.05 179.47L462.74 179.48L463.44 179.49L464.14 179.49L464.84 179.48L465.55 179.46L466.27 179.44L466.99 179.41L467.72 179.37L468.45 179.33L469.19 179.28L469.93 179.22L470.68 179.16L471.44 179.09L472.21 179.01L472.98 178.93L473.76 178.84L474.56 178.75L475.36 178.66L476.18 178.55L477.00 178.45L477.83 178.33L478.67 178.21L479.52 178.08L480.37 177.94L481.23 177.80L482.10 177.64L482.97 177.47L483.85 177.30L484.72 177.11L485.60 176.90L486.47 176.68L487.34 176.45L488.21 176.20L489.08 175.95L489.95 175.68L490.82 175.39L491.69 175.10L492.56 174.79L493.42 174.46L494.28 174.12L495.13 173.77L495.98 173.40L496.82 173.02L497.66 172.62L498.48 172.21L499.30 171.78L500.13 171.35L500.95 170.90L501.76 170.44L502.56 169.96L503.34 169.46L504.11 168.95L504.86 168.43L505.59 167.88L506.30 167.32L507.00 166.75L507.67 166.16L508.33 165.56L508.98 164.94L509.61 164.31L510.23 163.68L510.85 163.03L511.46 162.37L512.06 161.70L512.65 161.03L513.23 160.34L513.81 159.65L514.39 158.95L514.96 158.24L515.52 157.52L516.07 156.79L516.62 156.05L517.16 155.31L517.69 154.55L518.21 153.79L518.72 153.02L519.20 152.24L519.67 151.45L520.12 150.65L520.56 149.84L520.99 149.03L521.41 148.21L521.82 147.38L522.23 146.55L522.63 145.71L523.03 144.86L523.42 144.01L523.82 143.15L524.21 142.28L524.61 141.41L525.01 140.54L525.60 139.65Z" class="cv" stroke="#F8821C"/>
<path d="M521.42 139.65L521.18 138.80L520.80 137.95L520.43 137.11L520.06 136.28L519.69 135.45L519.33 134.63L518.96 133.82L518.59 133.01L518.22 132.20L517.85 131.40L517.47 130.61L517.09 129.82L516.69 129.04L516.30 128.27L515.90 127.50L515.50 126.73L515.10 125.98L514.68 125.22L514.26 124.48L513.83 123.74L513.39 123.01L512.93 122.29L512.47 121.57L511.98 120.86L511.47 120.17L510.95 119.48L510.41 118.81L509.85 118.15L509.28 117.49L508.69 116.85L508.09 116.22L507.49 115.60L506.86 114.99L506.22 114.39L505.56 113.81L504.88 113.24L504.18 112.69L503.46 112.15L502.71 111.64L501.95 111.13L501.16 110.65L500.37 110.18L499.55 109.73L498.72 109.30L497.88 108.88L497.02 108.49L496.14 108.11L495.25 107.75L494.35 107.41L493.43 107.09L492.49 106.79L491.54 106.51L490.57 106.26L489.59 106.03L488.60 105.82L487.60 105.62L486.60 105.44L485.61 105.28L484.63 105.12L483.66 104.98L482.70 104.84L481.76 104.71L480.82 104.59L479.88 104.48L478.96 104.38L478.03 104.30L477.12 104.23L476.20 104.17L475.30 104.12L474.39 104.08L473.50 104.06L472.61 104.04L471.73 104.04L470.86 104.04L470.00 104.05L469.14 104.07L468.30 104.10L467.46 104.13L466.64 104.17L465.82 104.22L465.02 104.28L464.22 104.34L463.43 104.41L462.65 104.49L461.88 104.57L461.12 104.66L460.37 104.75L459.64 104.85L458.91 104.95L458.19 105.06L457.49 105.16L456.79 105.28L456.11 105.40L455.43 105.52L454.76 105.65L454.10 105.78L453.44 105.92L452.80 106.06L452.16 106.20L451.54 106.36L450.92 106.51L450.30 106.67L449.70 106.84L449.10 107.02L448.51 107.19L447.92 107.37L447.35 107.55L446.79 107.73L446.24 107.91L445.70 108.09L445.17 108.27L444.65 108.44L444.14 108.61L443.65 108.78L443.16 108.95L442.68 109.11L442.22 109.27L441.76 109.43L441.31 109.58L440.87 109.73L440.45 109.86L440.04 109.99L439.63 110.12L439.23 110.25L438.83 110.39L438.44 110.52L438.06 110.65L437.68 110.77L437.31 110.90L436.95 111.02L436.59 111.15L436.24 111.27L435.89 111.38L435.55 111.50L435.22 111.61L434.89 111.71L434.57 111.81L434.25 111.91L433.94 112.01L433.63 112.10L433.33 112.18L433.03 112.27L432.74 112.34L432.45 112.42L432.16 112.49L431.88 112.56L431.61 112.62L431.33 112.69L431.06 112.75L430.79 112.81L430.53 112.86L430.26 112.92L430.00 112.97L429.75 113.02L429.49 113.08L429.24 113.12L428.99 113.17L428.74 113.22L428.49 113.26L428.25 113.30L428.00 113.34L427.76 113.38L427.52 113.41L427.28 113.44L427.05 113.48L426.81 113.51L426.58 113.54L426.34 113.56L426.11 113.59L425.88 113.61L425.65 113.63L425.42 113.65L425.19 113.67L424.96 113.68L424.73 113.69L424.51 113.71L424.28 113.71L424.05 113.72L423.83 113.72L423.60 113.73L423.37 113.73L423.15 113.73L422.92 113.73L422.69 113.73L422.47 113.72L422.24 113.71L422.01 113.69L421.78 113.66L421.55 113.64L421.32 113.60L421.09 113.56L420.85 113.52L420.62 113.47L420.38 113.42L420.14 113.37L419.90 113.31L419.65 113.25L419.41 113.19L419.16 113.13L418.91 113.07L418.66 113.00L418.41 112.94L418.15 112.88L417.90 112.82L417.64 112.76L417.38 112.70L417.12 112.64L416.85 112.58L416.58 112.51L416.31 112.45L416.04 112.38L415.76 112.31L415.48 112.25L415.20 112.18L414.92 112.11L414.63 112.04L414.34 111.96L414.04 111.89L413.74 111.81L413.44 111.74L413.13 111.66L412.82 111.58L412.51 111.49L412.19 111.41L411.87 111.32L411.54 111.24L411.21 111.15L410.87 111.06L410.53 110.97L410.18 110.87L409.83 110.78L409.47 110.68L409.11 110.58L408.74 110.48L408.36 110.38L407.98 110.28L407.60 110.18L407.20 110.07L406.80 109.96L406.39 109.85L405.97 109.73L405.55 109.61L405.12 109.49L404.67 109.36L404.22 109.24L403.77 109.11L403.30 108.98L402.82 108.85L402.34 108.72L401.85 108.58L401.35 108.45L400.83 108.32L400.31 108.18L399.79 108.05L399.25 107.91L398.70 107.78L398.15 107.65L397.58 107.52L397.01 107.39L396.43 107.27L395.84 107.15L395.24 107.03L394.63 106.90L394.01 106.78L393.37 106.66L392.72 106.54L392.07 106.42L391.40 106.30L390.71 106.18L390.02 106.07L389.31 105.95L388.59 105.84L387.86 105.73L387.11 105.62L386.35 105.52L385.58 105.42L384.80 105.32L384.00 105.23L383.19 105.14L382.37 105.05L381.53 104.97L380.68 104.89L379.81 104.82L378.92 104.75L378.03 104.68L377.11 104.62L376.19 104.57L375.25 104.52L374.29 104.48L373.32 104.45L372.35 104.42L371.35 104.41L370.35 104.41L369.34 104.42L368.33 104.44L367.31 104.47L366.28 104.52L365.25 104.59L364.21 104.66L363.16 104.75L362.10 104.86L361.04 104.97L359.96 105.10L358.88 105.24L357.78 105.39L356.67 105.55L355.54 105.72L354.39 105.90L353.25 106.09L352.12 106.32L351.01 106.57L349.92 106.85L348.88 107.16L347.86 107.50L346.88 107.87L345.93 108.27L345.00 108.69L344.09 109.13L343.19 109.59L342.32 110.07L341.46 110.56L340.61 111.07L339.78 111.60L338.97 112.15L338.17 112.71L337.39 113.29L336.62 113.89L335.88 114.50L335.15 115.12L334.45 115.76L333.76 116.42L333.10 117.09L332.45 117.77L331.83 118.46L331.22 119.17L330.63 119.89L330.06 120.62L329.50 121.36L328.97 122.11L328.47 122.88L327.98 123.65L327.52 124.43L327.07 125.22L326.64 126.02L326.23 126.83L325.83 127.65L325.45 128.47L325.09 129.30L324.74 130.13L324.41 130.97L324.10 131.82L323.82 132.67L323.57 133.53L323.34 134.40L323.14 135.26L322.97 136.14L322.82 137.01L322.70 137.89L322.61 138.77L322.55 139.65L322.54 140.53L322.57 141.41L322.64 142.29L322.75 143.17L322.89 144.05L323.06 144.92L323.26 145.79L323.47 146.65L323.71 147.51L323.99 148.37L324.30 149.21L324.67 150.05L325.07 150.88L325.50 151.69L325.95 152.51L326.40 153.31L326.85 154.11L327.32 154.90L327.81 155.68L328.31 156.45L328.84 157.21L329.39 157.96L329.96 158.70L330.56 159.43L331.20 160.13L331.87 160.83L332.57 161.50L333.29 162.17L334.03 162.81L334.78 163.45L335.55 164.07L336.33 164.67L337.13 165.26L337.94 165.84L338.77 166.40L339.60 166.94L340.46 167.47L341.32 167.98L342.21 168.47L343.11 168.95L344.02 169.40L344.96 169.84L345.90 170.26L346.86 170.66L347.82 171.04L348.80 171.40L349.78 171.75L350.78 172.07L351.77 172.38L352.78 172.68L353.78 172.95L354.79 173.21L355.80 173.45L356.81 173.68L357.83 173.89L358.85 174.08L359.88 174.25L360.90 174.40L361.92 174.55L362.94 174.67L363.95 174.79L364.95 174.89L365.95 174.98L366.94 175.06L367.92 175.12L368.89 175.18L369.85 175.23L370.80 175.26L371.75 175.29L372.68 175.30L373.61 175.31L374.53 175.30L375.43 175.29L376.33 175.27L377.22 175.24L378.10 175.20L378.96 175.16L379.82 175.11L380.66 175.05L381.49 174.98L382.32 174.91L383.13 174.83L383.93 174.75L384.73 174.65L385.51 174.55L386.29 174.44L387.06 174.32L387.82 174.20L388.58 174.07L389.32 173.93L390.05 173.79L390.78 173.64L391.49 173.48L392.20 173.32L392.90 173.15L393.59 172.98L394.26 172.81L394.93 172.63L395.58 172.46L396.22 172.28L396.85 172.10L397.47 171.92L398.08 171.74L398.67 171.55L399.26 171.37L399.83 171.19L400.39 171.02L400.94 170.84L401.47 170.67L401.99 170.51L402.50 170.34L403.01 170.18L403.51 170.01L403.99 169.84L404.47 169.68L404.94 169.52L405.40 169.36L405.85 169.20L406.29 169.04L406.72 168.89L407.14 168.74L407.56 168.59L407.96 168.45L408.36 168.31L408.75 168.18L409.13 168.06L409.50 167.93L409.86 167.82L410.22 167.70L410.57 167.60L410.91 167.49L411.25 167.40L411.58 167.30L411.90 167.21L412.22 167.13L412.53 167.05L412.84 166.97L413.14 166.89L413.44 166.82L413.74 166.74L414.03 166.67L414.32 166.60L414.60 166.54L414.89 166.47L415.17 166.40L415.44 166.34L415.71 166.27L415.98 166.21L416.25 166.15L416.52 166.09L416.77 166.08L417.01 166.06L417.26 166.05L417.51 166.04L417.75 166.02L418.00 166.01L418.24 166.00L418.48 165.99L418.72 165.98L418.96 165.97L419.20 165.96L419.43 165.95L419.67 165.95L419.91 165.94L420.14 165.93L420.37 165.93L420.61 165.93L420.84 165.92L421.07 165.92L421.30 165.92L421.53 165.92L421.76 165.92L421.99 165.93L422.22 165.93L422.45 165.94L422.68 165.95L422.91 165.96L423.14 165.98L423.37 165.99L423.60 166.01L423.83 165.95L424.06 165.89L424.29 165.83L424.51 165.78L424.74 165.73L424.96 165.68L425.19 165.64L425.41 165.60L425.64 165.57L425.87 165.55L426.09 165.53L426.32 165.52L426.55 165.51L426.78 165.51L427.01 165.53L427.24 165.54L427.47 165.57L427.71 165.60L427.95 165.64L428.19 165.69L428.44 165.74L428.68 165.80L428.93 165.86L429.18 165.92L429.44 165.99L429.70 166.06L429.96 166.13L430.22 166.22L430.50 166.32L430.77 166.42L431.07 166.58L431.37 166.74L431.68 166.92L431.99 167.10L432.32 167.30L432.65 167.51L432.99 167.72L433.34 167.93L433.69 168.15L434.05 168.36L434.41 168.57L434.78 168.78L435.15 168.98L435.52 169.16L435.90 169.34L436.27 169.50L436.65 169.65L437.02 169.80L437.41 169.95L437.80 170.10L438.19 170.25L438.59 170.39L439.00 170.53L439.41 170.67L439.82 170.81L440.24 170.94L440.66 171.07L441.09 171.20L441.52 171.32L441.95 171.44L442.42 171.60L442.89 171.76L443.37 171.91L443.85 172.06L444.34 172.21L444.83 172.34L445.33 172.48L445.83 172.61L446.34 172.73L446.85 172.85L447.37 172.97L447.89 173.09L448.43 173.20L448.96 173.31L449.51 173.41L450.06 173.52L450.62 173.62L451.19 173.72L451.76 173.81L452.35 173.91L452.94 174.00L453.54 174.09L454.14 174.17L454.76 174.26L455.39 174.34L456.02 174.42L456.66 174.49L457.31 174.56L457.97 174.62L458.64 174.69L459.31 174.74L459.99 174.79L460.68 174.84L461.39 174.89L462.10 174.93L462.82 174.96L463.55 174.99L464.28 175.02L465.03 175.04L465.79 175.05L466.55 175.06L467.32 175.06L468.10 175.05L468.89 175.04L469.69 175.02L470.50 174.99L471.32 174.96L472.14 174.92L472.98 174.87L473.82 174.82L474.68 174.76L475.54 174.69L476.42 174.61L477.30 174.52L478.19 174.43L479.09 174.32L479.99 174.21L480.90 174.08L481.81 173.94L482.72 173.79L483.64 173.62L484.55 173.44L485.47 173.24L486.38 173.03L487.30 172.81L488.22 172.58L489.14 172.33L490.05 172.06L490.97 171.78L491.88 171.49L492.78 171.18L493.67 170.85L494.56 170.51L495.45 170.15L496.33 169.78L497.21 169.39L498.08 168.99L498.94 168.57L499.79 168.14L500.63 167.69L501.44 167.22L502.24 166.73L503.01 166.22L503.77 165.70L504.49 165.16L505.20 164.60L505.89 164.03L506.56 163.44L507.22 162.84L507.86 162.23L508.49 161.61L509.11 160.97L509.72 160.33L510.32 159.67L510.90 159.00L511.47 158.33L512.03 157.64L512.58 156.95L513.12 156.24L513.64 155.53L514.15 154.80L514.64 154.07L515.11 153.33L515.57 152.58L516.02 151.82L516.44 151.05L516.86 150.28L517.26 149.49L517.65 148.71L518.03 147.91L518.40 147.11L518.77 146.31L519.14 145.49L519.50 144.68L519.83 143.85L520.15 143.02L520.45 142.19L520.74 141.35L521.01 140.50L521.42 139.65Z" class="cv" stroke="#067D06"/>
<path d="M518.45 139.65L518.24 138.82L517.90 138.00L517.56 137.19L517.22 136.38L516.89 135.58L516.56 134.78L516.22 133.98L515.89 133.20L515.55 132.41L515.21 131.63L514.87 130.86L514.53 130.09L514.18 129.33L513.82 128.57L513.46 127.82L513.09 127.07L512.72 126.33L512.33 125.60L511.94 124.87L511.53 124.15L511.11 123.43L510.68 122.72L510.24 122.02L509.77 121.33L509.29 120.65L508.80 119.98L508.28 119.32L507.75 118.67L507.20 118.03L506.64 117.40L506.08 116.78L505.50 116.17L504.91 115.57L504.29 114.98L503.64 114.41L502.97 113.86L502.27 113.33L501.54 112.81L500.78 112.32L500.00 111.84L499.20 111.39L498.38 110.95L497.54 110.52L496.69 110.12L495.83 109.73L494.96 109.36L494.08 109.01L493.18 108.67L492.28 108.35L491.37 108.05L490.44 107.77L489.49 107.51L488.53 107.28L487.55 107.06L486.57 106.87L485.57 106.70L484.58 106.54L483.59 106.40L482.60 106.27L481.63 106.15L480.67 106.03L479.72 105.93L478.78 105.83L477.85 105.75L476.92 105.68L476.01 105.62L475.10 105.57L474.19 105.52L473.30 105.49L472.41 105.47L471.53 105.46L470.66 105.46L469.80 105.46L468.95 105.47L468.11 105.50L467.28 105.52L466.46 105.56L465.64 105.61L464.84 105.66L464.04 105.71L463.26 105.78L462.49 105.85L461.73 105.92L460.97 106.00L460.23 106.08L459.50 106.17L458.78 106.26L458.07 106.36L457.38 106.46L456.69 106.56L456.02 106.66L455.36 106.77L454.70 106.88L454.05 106.99L453.42 107.11L452.79 107.23L452.17 107.36L451.56 107.48L450.96 107.61L450.37 107.74L449.79 107.88L449.22 108.02L448.65 108.16L448.09 108.30L447.54 108.45L447.00 108.60L446.47 108.75L445.95 108.89L445.43 109.04L444.93 109.19L444.44 109.33L443.96 109.47L443.48 109.61L443.02 109.75L442.56 109.89L442.11 110.02L441.67 110.16L441.24 110.29L440.82 110.42L440.40 110.55L439.99 110.67L439.60 110.79L439.20 110.91L438.82 111.03L438.44 111.15L438.06 111.27L437.69 111.38L437.33 111.50L436.97 111.61L436.62 111.72L436.28 111.84L435.94 111.94L435.60 112.05L435.27 112.15L434.95 112.25L434.63 112.34L434.32 112.43L434.01 112.52L433.71 112.61L433.41 112.69L433.12 112.77L432.83 112.84L432.55 112.91L432.27 112.98L431.99 113.04L431.72 113.10L431.45 113.16L431.18 113.22L430.91 113.28L430.65 113.33L430.39 113.39L430.13 113.44L429.88 113.49L429.63 113.54L429.38 113.59L429.13 113.64L428.88 113.68L428.64 113.72L428.40 113.76L428.16 113.81L427.92 113.84L427.68 113.88L427.45 113.91L427.21 113.95L426.98 113.98L426.75 114.01L426.52 114.04L426.29 114.06L426.06 114.09L425.83 114.11L425.61 114.13L425.38 114.15L425.16 114.16L424.94 114.18L424.71 114.19L424.49 114.20L424.27 114.21L424.04 114.21L423.82 114.21L423.60 114.21L423.38 114.24L423.16 114.26L422.94 114.28L422.71 114.30L422.49 114.31L422.27 114.33L422.05 114.33L421.83 114.33L421.61 114.33L421.38 114.33L421.16 114.32L420.94 114.31L420.71 114.29L420.48 114.27L420.26 114.25L420.03 114.23L419.80 114.21L419.57 114.18L419.33 114.16L419.10 114.13L418.86 114.09L418.63 114.06L418.39 114.02L418.14 113.98L417.90 113.94L417.66 113.90L417.41 113.86L417.16 113.82L416.91 113.78L416.66 113.74L416.40 113.70L416.15 113.66L415.89 113.62L415.63 113.58L415.37 113.54L415.10 113.50L414.84 113.46L414.57 113.41L414.29 113.37L414.02 113.32L413.74 113.27L413.45 113.21L413.17 113.16L412.88 113.11L412.58 113.05L412.28 112.99L411.98 112.93L411.68 112.87L411.37 112.81L411.05 112.74L410.74 112.68L410.41 112.61L410.09 112.55L409.76 112.48L409.42 112.41L409.08 112.34L408.74 112.27L408.39 112.21L408.04 112.14L407.68 112.08L407.30 111.98L406.92 111.89L406.53 111.80L406.14 111.71L405.74 111.62L405.34 111.53L404.93 111.45L404.52 111.36L404.10 111.28L403.68 111.20L403.25 111.12L402.81 111.04L402.37 110.95L401.91 110.87L401.45 110.78L400.98 110.69L400.49 110.60L400.00 110.51L399.50 110.41L398.99 110.32L398.46 110.22L397.93 110.12L397.39 110.02L396.83 109.92L396.27 109.82L395.69 109.72L395.11 109.63L394.51 109.53L393.90 109.43L393.29 109.34L392.66 109.24L392.02 109.15L391.37 109.07L390.71 108.98L390.05 108.90L389.37 108.83L388.67 108.75L387.97 108.68L387.25 108.61L386.53 108.54L385.75 108.45L384.95 108.35L384.14 108.26L383.32 108.18L382.48 108.10L381.63 108.02L380.76 107.95L379.87 107.88L378.97 107.81L378.05 107.75L377.11 107.70L376.16 107.65L375.19 107.61L374.21 107.57L373.20 107.54L372.18 107.52L371.15 107.51L370.09 107.50L369.02 107.50L367.94 107.51L366.84 107.53L365.72 107.57L364.60 107.61L363.46 107.67L362.31 107.75L361.16 107.83L360.00 107.94L358.82 108.06L357.64 108.19L356.45 108.34L355.27 108.51L354.10 108.71L352.96 108.93L351.84 109.19L350.74 109.47L349.68 109.78L348.65 110.13L347.64 110.49L346.66 110.89L345.71 111.30L344.81 111.75L343.93 112.22L343.06 112.70L342.22 113.21L341.40 113.73L340.60 114.27L339.82 114.83L339.06 115.41L338.33 116.00L337.62 116.61L336.94 117.24L336.27 117.88L335.64 118.53L335.02 119.20L334.42 119.88L333.85 120.57L333.29 121.28L332.76 121.99L332.25 122.72L331.77 123.46L331.31 124.21L330.88 124.96L330.46 125.73L330.07 126.51L329.70 127.29L329.34 128.08L329.00 128.87L328.68 129.67L328.36 130.48L328.07 131.29L327.79 132.11L327.53 132.93L327.29 133.76L327.08 134.59L326.89 135.43L326.72 136.27L326.57 137.11L326.45 137.95L326.35 138.80L326.28 139.65L326.33 140.50L326.40 141.35L326.51 142.19L326.64 143.04L326.81 143.88L326.99 144.71L327.20 145.55L327.43 146.37L327.68 147.20L327.96 148.02L328.28 148.83L328.62 149.63L328.99 150.43L329.38 151.22L329.77 152.00L330.18 152.78L330.60 153.55L331.03 154.31L331.48 155.07L331.96 155.81L332.45 156.54L332.98 157.26L333.54 157.97L334.13 158.67L334.75 159.35L335.40 160.01L336.08 160.66L336.78 161.30L337.49 161.92L338.22 162.53L338.96 163.12L339.72 163.70L340.49 164.27L341.27 164.82L342.07 165.36L342.89 165.88L343.71 166.38L344.56 166.87L345.42 167.33L346.31 167.78L347.21 168.21L348.14 168.62L349.08 169.01L350.03 169.37L351.00 169.72L351.99 170.05L352.98 170.36L353.98 170.65L354.99 170.92L356.00 171.17L357.02 171.41L358.03 171.63L359.05 171.83L360.07 172.02L361.11 172.18L362.14 172.33L363.18 172.46L364.22 172.57L365.25 172.66L366.28 172.74L367.31 172.81L368.33 172.86L369.34 172.90L370.35 172.93L371.34 172.94L372.32 172.95L373.29 172.95L374.25 172.93L375.21 172.91L376.16 172.87L377.10 172.82L378.03 172.76L378.95 172.69L379.86 172.61L380.75 172.53L381.64 172.43L382.51 172.34L383.37 172.23L384.22 172.12L385.05 172.00L385.87 171.87L386.68 171.74L387.48 171.61L388.27 171.47L389.05 171.31L389.82 171.15L390.58 170.98L391.34 170.81L392.08 170.62L392.81 170.44L393.50 170.28L394.18 170.12L394.85 169.95L395.50 169.78L396.14 169.61L396.77 169.45L397.39 169.28L397.99 169.11L398.58 168.95L399.15 168.79L399.71 168.63L400.27 168.46L400.82 168.29L401.36 168.12L401.89 167.94L402.41 167.77L402.92 167.60L403.42 167.43L403.90 167.26L404.38 167.10L404.84 166.94L405.30 166.79L405.74 166.63L406.18 166.48L406.60 166.33L407.02 166.19L407.42 166.05L407.82 165.92L408.20 165.79L408.58 165.66L408.95 165.54L409.31 165.43L409.66 165.32L410.00 165.22L410.34 165.12L410.67 165.03L410.99 164.94L411.31 164.86L411.62 164.78L411.92 164.71L412.21 164.64L412.50 164.58L412.79 164.51L413.07 164.46L413.34 164.41L413.62 164.36L413.88 164.32L414.15 164.27L414.41 164.23L414.67 164.19L414.92 164.15L415.18 164.11L415.43 164.08L415.67 164.04L415.92 164.01L416.16 163.98L416.40 163.95L416.64 163.92L416.88 163.89L417.11 163.87L417.32 163.93L417.53 164.00L417.74 164.06L417.95 164.13L418.16 164.19L418.37 164.26L418.58 164.32L418.79 164.38L419.01 164.44L419.22 164.50L419.43 164.56L419.64 164.62L419.86 164.68L420.07 164.74L420.29 164.80L420.50 164.86L420.72 164.92L420.94 164.98L421.16 165.04L421.37 165.09L421.59 165.15L421.81 165.21L422.03 165.27L422.25 165.33L422.48 165.39L422.70 165.46L422.92 165.52L423.15 165.59L423.37 165.66L423.60 165.72L423.83 165.63L424.05 165.55L424.28 165.46L424.50 165.38L424.72 165.30L424.94 165.23L425.16 165.16L425.38 165.10L425.60 165.04L425.82 164.99L426.04 164.94L426.25 164.90L426.47 164.87L426.69 164.84L426.91 164.82L427.14 164.81L427.36 164.80L427.58 164.80L427.81 164.81L428.04 164.82L428.27 164.83L428.50 164.85L428.73 164.87L428.96 164.89L429.20 164.91L429.44 164.93L429.68 164.96L429.92 165.00L430.17 165.04L430.41 165.08L430.68 165.19L430.96 165.31L431.24 165.44L431.53 165.57L431.82 165.71L432.12 165.86L432.42 166.01L432.73 166.16L433.04 166.31L433.36 166.46L433.68 166.61L434.01 166.76L434.33 166.90L434.66 167.03L434.99 167.15L435.32 167.27L435.66 167.38L435.99 167.49L436.34 167.60L436.68 167.70L437.03 167.81L437.38 167.91L437.74 168.01L438.10 168.12L438.47 168.21L438.84 168.31L439.21 168.41L439.59 168.50L439.97 168.59L440.36 168.67L440.78 168.81L441.20 168.95L441.64 169.08L442.07 169.21L442.51 169.34L442.96 169.46L443.41 169.58L443.87 169.70L444.33 169.81L444.80 169.93L445.28 170.04L445.76 170.15L446.25 170.26L446.75 170.37L447.25 170.48L447.77 170.58L448.29 170.69L448.82 170.79L449.35 170.89L449.90 170.99L450.46 171.09L451.02 171.19L451.59 171.29L452.18 171.39L452.77 171.48L453.37 171.57L453.98 171.66L454.60 171.75L455.23 171.84L455.87 171.92L456.52 172.00L457.17 172.07L457.85 172.15L458.53 172.22L459.22 172.29L459.93 172.36L460.64 172.42L461.37 172.48L462.10 172.53L462.85 172.58L463.60 172.63L464.37 172.66L465.14 172.69L465.92 172.72L466.71 172.73L467.51 172.74L468.32 172.74L469.13 172.73L469.96 172.72L470.80 172.70L471.65 172.67L472.51 172.64L473.38 172.60L474.26 172.55L475.15 172.49L476.05 172.42L476.96 172.35L477.87 172.26L478.80 172.16L479.73 172.05L480.66 171.93L481.60 171.80L482.54 171.65L483.48 171.49L484.43 171.31L485.38 171.13L486.33 170.92L487.28 170.71L488.22 170.47L489.17 170.22L490.11 169.96L491.04 169.68L491.97 169.38L492.89 169.06L493.81 168.73L494.72 168.38L495.63 168.02L496.53 167.64L497.42 167.25L498.29 166.84L499.15 166.40L499.99 165.95L500.80 165.48L501.59 164.99L502.35 164.48L503.09 163.95L503.80 163.41L504.50 162.85L505.17 162.27L505.83 161.68L506.48 161.08L507.11 160.47L507.72 159.85L508.32 159.21L508.91 158.56L509.47 157.90L510.03 157.23L510.57 156.55L511.09 155.86L511.59 155.16L512.07 154.45L512.52 153.73L512.97 153.01L513.39 152.27L513.80 151.53L514.20 150.77L514.58 150.02L514.95 149.25L515.31 148.48L515.66 147.70L516.01 146.92L516.35 146.14L516.69 145.34L517.01 144.55L517.30 143.74L517.56 142.93L517.79 142.12L518.00 141.30L518.18 140.48L518.45 139.65Z" class="cv" stroke="#07078C"/>
<path d="M516.47 139.65L516.28 138.84L515.96 138.04L515.64 137.24L515.33 136.45L515.02 135.66L514.71 134.88L514.39 134.10L514.08 133.32L513.77 132.55L513.45 131.79L513.14 131.03L512.81 130.27L512.49 129.52L512.16 128.78L511.82 128.04L511.48 127.30L511.12 126.57L510.76 125.85L510.38 125.13L509.99 124.42L509.59 123.71L509.17 123.02L508.74 122.33L508.29 121.65L507.83 120.98L507.35 120.32L506.85 119.66L506.33 119.02L505.80 118.39L505.27 117.77L504.72 117.15L504.16 116.55L503.59 115.96L502.98 115.38L502.35 114.82L501.68 114.28L500.98 113.76L500.25 113.26L499.48 112.78L498.68 112.32L497.87 111.88L497.03 111.46L496.18 111.06L495.32 110.67L494.45 110.30L493.56 109.95L492.68 109.62L491.78 109.29L490.88 108.99L489.96 108.70L489.04 108.44L488.10 108.19L487.14 107.97L486.17 107.77L485.18 107.59L484.19 107.43L483.20 107.29L482.21 107.16L481.22 107.05L480.25 106.94L479.29 106.85L478.34 106.76L477.40 106.68L476.47 106.62L475.54 106.56L474.63 106.51L473.73 106.47L472.83 106.44L471.95 106.42L471.07 106.41L470.21 106.41L469.35 106.41L468.50 106.42L467.67 106.44L466.84 106.47L466.02 106.51L465.21 106.55L464.42 106.60L463.63 106.65L462.85 106.72L462.08 106.78L461.33 106.85L460.58 106.93L459.85 107.01L459.13 107.09L458.42 107.18L457.72 107.27L457.03 107.37L456.36 107.46L455.69 107.56L455.04 107.66L454.40 107.76L453.77 107.86L453.14 107.97L452.53 108.08L451.92 108.19L451.33 108.31L450.74 108.42L450.17 108.54L449.60 108.66L449.05 108.78L448.50 108.90L447.96 109.03L447.43 109.15L446.90 109.28L446.39 109.41L445.89 109.53L445.39 109.66L444.91 109.78L444.43 109.90L443.96 110.02L443.50 110.15L443.05 110.27L442.61 110.38L442.17 110.50L441.74 110.61L441.32 110.73L440.90 110.85L440.49 110.97L440.09 111.09L439.70 111.20L439.31 111.31L438.93 111.42L438.55 111.54L438.18 111.65L437.81 111.76L437.45 111.87L437.10 111.98L436.75 112.08L436.41 112.19L436.07 112.29L435.74 112.39L435.41 112.49L435.09 112.58L434.77 112.67L434.46 112.76L434.16 112.85L433.86 112.93L433.56 113.01L433.27 113.09L432.98 113.16L432.70 113.23L432.42 113.29L432.14 113.35L431.87 113.41L431.60 113.47L431.34 113.53L431.07 113.58L430.81 113.64L430.56 113.69L430.30 113.74L430.05 113.80L429.80 113.85L429.55 113.89L429.30 113.94L429.05 113.99L428.81 114.03L428.57 114.07L428.33 114.11L428.10 114.15L427.86 114.19L427.63 114.23L427.39 114.26L427.16 114.30L426.93 114.33L426.71 114.36L426.48 114.38L426.25 114.41L426.03 114.43L425.80 114.45L425.58 114.47L425.36 114.49L425.14 114.51L424.92 114.52L424.70 114.53L424.48 114.54L424.26 114.55L424.04 114.55L423.82 114.56L423.60 114.56L423.38 114.56L423.16 114.55L422.94 114.54L422.72 114.53L422.50 114.52L422.28 114.51L422.06 114.49L421.84 114.46L421.62 114.44L421.39 114.40L421.17 114.37L420.94 114.33L420.71 114.29L420.48 114.25L420.25 114.20L420.02 114.15L419.78 114.10L419.55 114.05L419.31 113.99L419.07 113.94L418.82 113.87L418.58 113.81L418.33 113.75L418.08 113.69L417.83 113.62L417.58 113.56L417.32 113.49L417.06 113.42L416.80 113.36L416.54 113.29L416.27 113.22L416.00 113.16L415.73 113.09L415.46 113.02L415.18 112.95L414.90 112.88L414.62 112.81L414.33 112.74L414.04 112.66L413.75 112.58L413.45 112.50L413.15 112.42L412.84 112.33L412.53 112.25L412.21 112.16L411.89 112.07L411.57 111.98L411.24 111.89L410.91 111.79L410.57 111.70L410.22 111.60L409.87 111.50L409.52 111.40L409.16 111.30L408.79 111.20L408.42 111.10L408.04 110.99L407.66 110.89L407.26 110.78L406.87 110.67L406.47 110.56L406.06 110.45L405.64 110.35L405.22 110.24L404.79 110.13L404.36 110.02L403.91 109.90L403.46 109.79L403.01 109.68L402.54 109.57L402.07 109.46L401.59 109.35L401.10 109.24L400.60 109.13L400.09 109.01L399.58 108.90L399.05 108.79L398.52 108.68L397.98 108.57L397.42 108.45L396.86 108.34L396.29 108.24L395.71 108.13L395.12 108.02L394.51 107.91L393.90 107.80L393.27 107.69L392.64 107.59L391.99 107.48L391.33 107.38L390.65 107.27L389.97 107.17L389.28 107.08L388.57 106.98L387.85 106.89L387.12 106.81L386.38 106.72L385.63 106.64L384.86 106.56L384.08 106.49L383.30 106.43L382.50 106.37L381.69 106.32L380.87 106.27L380.04 106.22L379.19 106.18L378.33 106.15L377.46 106.12L376.57 106.10L375.67 106.09L374.76 106.08L373.84 106.08L372.90 106.09L371.96 106.11L371.00 106.14L370.03 106.18L369.05 106.22L368.07 106.28L367.07 106.35L366.05 106.43L365.03 106.51L364.00 106.61L362.95 106.72L361.90 106.84L360.83 106.98L359.76 107.12L358.67 107.28L357.58 107.45L356.48 107.63L355.38 107.84L354.29 108.06L353.22 108.31L352.17 108.59L351.14 108.89L350.15 109.22L349.18 109.58L348.24 109.96L347.32 110.37L346.43 110.80L345.56 111.25L344.70 111.71L343.86 112.19L343.03 112.69L342.23 113.21L341.45 113.75L340.68 114.30L339.94 114.87L339.22 115.45L338.53 116.06L337.86 116.68L337.22 117.31L336.60 117.96L336.01 118.62L335.44 119.30L334.89 119.98L334.36 120.68L333.86 121.39L333.38 122.11L332.93 122.84L332.50 123.59L332.11 124.34L331.74 125.10L331.40 125.87L331.08 126.65L330.78 127.43L330.50 128.22L330.24 129.01L330.00 129.81L329.78 130.62L329.57 131.42L329.38 132.23L329.21 133.05L329.07 133.87L328.95 134.69L328.85 135.51L328.78 136.34L328.73 137.17L328.70 137.99L328.70 138.82L328.73 139.65L328.79 140.48L328.88 141.30L328.99 142.13L329.13 142.95L329.29 143.77L329.47 144.58L329.68 145.39L329.90 146.20L330.14 147.01L330.41 147.80L330.70 148.60L331.02 149.38L331.35 150.16L331.69 150.93L332.05 151.70L332.42 152.47L332.79 153.22L333.19 153.97L333.61 154.71L334.05 155.44L334.52 156.16L335.03 156.87L335.56 157.56L336.13 158.24L336.73 158.91L337.36 159.56L338.01 160.20L338.68 160.82L339.37 161.43L340.08 162.03L340.79 162.61L341.53 163.18L342.27 163.74L343.03 164.28L343.81 164.81L344.59 165.32L345.40 165.82L346.22 166.29L347.06 166.75L347.93 167.19L348.82 167.61L349.73 168.01L350.66 168.38L351.61 168.74L352.57 169.07L353.55 169.38L354.54 169.68L355.53 169.95L356.54 170.21L357.55 170.45L358.56 170.67L359.57 170.88L360.58 171.07L361.60 171.24L362.62 171.39L363.65 171.52L364.69 171.64L365.72 171.73L366.76 171.81L367.79 171.87L368.81 171.92L369.83 171.96L370.84 171.98L371.84 171.99L372.83 171.99L373.81 171.99L374.77 171.97L375.73 171.94L376.69 171.89L377.63 171.84L378.57 171.77L379.49 171.70L380.41 171.61L381.31 171.52L382.20 171.41L383.08 171.31L383.95 171.19L384.80 171.07L385.64 170.94L386.47 170.81L387.28 170.67L388.08 170.53L388.86 170.38L389.64 170.23L390.41 170.06L391.17 169.89L391.93 169.71L392.67 169.52L393.40 169.32L394.12 169.13L394.81 168.95L395.48 168.77L396.13 168.60L396.78 168.42L397.41 168.24L398.02 168.06L398.62 167.88L399.21 167.71L399.78 167.54L400.34 167.38L400.88 167.21L401.42 167.04L401.95 166.87L402.48 166.69L402.99 166.50L403.50 166.32L404.00 166.14L404.48 165.96L404.96 165.79L405.42 165.61L405.87 165.45L406.31 165.28L406.74 165.12L407.16 164.97L407.57 164.82L407.97 164.67L408.35 164.53L408.73 164.40L409.10 164.27L409.46 164.15L409.81 164.03L410.15 163.92L410.48 163.81L410.81 163.71L411.12 163.62L411.43 163.53L411.74 163.44L412.03 163.37L412.32 163.30L412.60 163.23L412.88 163.17L413.15 163.11L413.42 163.06L413.68 163.01L413.94 162.97L414.20 162.92L414.45 162.88L414.70 162.85L414.94 162.81L415.18 162.78L415.42 162.75L415.66 162.72L415.89 162.69L416.12 162.66L416.35 162.64L416.58 162.61L416.80 162.59L417.03 162.57L417.25 162.55L417.47 162.53L417.65 162.64L417.84 162.75L418.03 162.86L418.22 162.97L418.41 163.07L418.60 163.17L418.79 163.28L418.99 163.38L419.18 163.48L419.38 163.58L419.58 163.68L419.78 163.77L419.98 163.87L420.18 163.96L420.39 164.06L420.59 164.15L420.80 164.24L421.01 164.34L421.21 164.43L421.42 164.52L421.64 164.61L421.85 164.70L422.06 164.79L422.28 164.88L422.49 164.97L422.71 165.06L422.93 165.15L423.15 165.24L423.38 165.34L423.60 165.44L423.82 165.33L424.05 165.22L424.27 165.12L424.49 165.02L424.70 164.93L424.92 164.84L425.14 164.75L425.35 164.67L425.56 164.59L425.78 164.52L425.99 164.46L426.20 164.40L426.41 164.35L426.63 164.30L426.84 164.26L427.05 164.22L427.27 164.20L427.48 164.17L427.70 164.15L427.92 164.14L428.14 164.13L428.36 164.12L428.58 164.11L428.80 164.10L429.02 164.09L429.24 164.08L429.46 164.08L429.69 164.07L429.92 164.07L430.14 164.07L430.40 164.16L430.65 164.25L430.91 164.34L431.18 164.44L431.45 164.54L431.72 164.64L432.00 164.75L432.28 164.86L432.57 164.97L432.86 165.08L433.15 165.18L433.44 165.29L433.74 165.39L434.04 165.49L434.34 165.58L434.64 165.66L434.95 165.75L435.26 165.83L435.57 165.91L435.88 165.99L436.20 166.07L436.53 166.15L436.85 166.23L437.19 166.31L437.52 166.39L437.86 166.46L438.20 166.54L438.54 166.61L438.89 166.68L439.25 166.75L439.64 166.87L440.03 167.00L440.43 167.12L440.84 167.24L441.25 167.35L441.66 167.47L442.09 167.58L442.51 167.69L442.95 167.80L443.39 167.91L443.84 168.02L444.30 168.14L444.76 168.25L445.23 168.36L445.71 168.47L446.20 168.58L446.70 168.69L447.20 168.79L447.71 168.90L448.24 169.01L448.77 169.12L449.31 169.23L449.86 169.34L450.43 169.44L451.00 169.55L451.58 169.65L452.17 169.76L452.77 169.86L453.38 169.96L454.00 170.05L454.64 170.15L455.28 170.24L455.94 170.34L456.61 170.43L457.29 170.52L457.99 170.62L458.70 170.70L459.42 170.79L460.15 170.87L460.89 170.94L461.64 171.01L462.40 171.07L463.17 171.13L463.95 171.18L464.74 171.22L465.53 171.25L466.33 171.27L467.15 171.29L467.97 171.30L468.80 171.30L469.65 171.30L470.50 171.29L471.37 171.27L472.25 171.25L473.15 171.21L474.05 171.17L474.97 171.13L475.89 171.07L476.82 171.00L477.77 170.92L478.71 170.83L479.66 170.73L480.62 170.61L481.58 170.48L482.54 170.33L483.51 170.18L484.48 170.01L485.45 169.82L486.42 169.62L487.39 169.40L488.35 169.16L489.31 168.91L490.26 168.64L491.21 168.35L492.15 168.04L493.08 167.72L494.01 167.39L494.94 167.04L495.86 166.67L496.76 166.28L497.64 165.87L498.50 165.44L499.34 164.99L500.15 164.52L500.94 164.03L501.69 163.53L502.42 163.00L503.13 162.46L503.82 161.90L504.50 161.33L505.15 160.74L505.78 160.14L506.40 159.53L507.00 158.91L507.59 158.27L508.15 157.62L508.70 156.96L509.23 156.29L509.74 155.62L510.23 154.92L510.69 154.22L511.12 153.51L511.54 152.79L511.94 152.07L512.33 151.33L512.70 150.59L513.07 149.84L513.42 149.09L513.76 148.33L514.09 147.57L514.42 146.80L514.74 146.02L515.06 145.24L515.36 144.46L515.62 143.67L515.84 142.87L516.02 142.07L516.17 141.27L516.29 140.46L516.47 139.65Z" class="cv" stroke="#B8820F"/>
<path d="M514.60 139.65L514.43 138.86L514.12 138.07L513.83 137.29L513.53 136.51L513.24 135.74L512.95 134.97L512.66 134.20L512.36 133.44L512.07 132.69L511.78 131.94L511.48 131.19L511.18 130.44L510.88 129.71L510.57 128.97L510.26 128.24L509.93 127.52L509.60 126.80L509.24 126.09L508.88 125.38L508.50 124.68L508.12 123.99L507.71 123.30L507.30 122.62L506.86 121.95L506.41 121.29L505.95 120.64L505.46 120.00L504.96 119.36L504.45 118.74L503.93 118.13L503.41 117.52L502.86 116.92L502.30 116.34L501.71 115.77L501.09 115.22L500.42 114.69L499.72 114.18L498.98 113.69L498.21 113.23L497.40 112.79L496.56 112.37L495.71 111.97L494.84 111.59L493.97 111.22L493.08 110.87L492.19 110.53L491.29 110.22L490.39 109.91L489.49 109.62L488.58 109.35L487.65 109.10L486.72 108.87L485.76 108.66L484.79 108.47L483.81 108.31L482.82 108.16L481.82 108.04L480.83 107.93L479.84 107.83L478.87 107.74L477.91 107.66L476.96 107.59L476.02 107.53L475.09 107.48L474.17 107.43L473.26 107.40L472.37 107.37L471.48 107.35L470.61 107.34L469.75 107.34L468.89 107.34L468.05 107.35L467.22 107.37L466.40 107.40L465.59 107.43L464.79 107.47L464.00 107.52L463.21 107.57L462.44 107.63L461.68 107.69L460.93 107.76L460.20 107.84L459.47 107.91L458.76 107.99L458.06 108.08L457.37 108.16L456.69 108.25L456.02 108.34L455.37 108.43L454.73 108.52L454.10 108.61L453.48 108.71L452.87 108.81L452.27 108.91L451.68 109.01L451.09 109.11L450.52 109.22L449.96 109.32L449.41 109.43L448.87 109.53L448.34 109.64L447.82 109.75L447.30 109.85L446.80 109.96L446.30 110.06L445.82 110.17L445.34 110.27L444.87 110.37L444.41 110.48L443.96 110.58L443.51 110.68L443.08 110.78L442.65 110.87L442.22 110.97L441.81 111.07L441.40 111.17L440.99 111.27L440.59 111.37L440.20 111.48L439.81 111.58L439.42 111.69L439.04 111.80L438.67 111.90L438.30 112.01L437.93 112.11L437.58 112.22L437.22 112.32L436.88 112.43L436.54 112.53L436.20 112.62L435.87 112.72L435.55 112.81L435.23 112.91L434.91 113.00L434.61 113.08L434.30 113.16L434.00 113.24L433.71 113.32L433.42 113.39L433.13 113.46L432.85 113.53L432.57 113.60L432.30 113.66L432.03 113.71L431.76 113.77L431.50 113.83L431.23 113.88L430.97 113.93L430.72 113.99L430.46 114.04L430.21 114.09L429.96 114.14L429.71 114.19L429.47 114.24L429.22 114.28L428.98 114.33L428.74 114.37L428.50 114.42L428.27 114.46L428.04 114.50L427.80 114.53L427.57 114.57L427.34 114.60L427.12 114.64L426.89 114.67L426.66 114.70L426.44 114.73L426.22 114.75L425.99 114.78L425.77 114.80L425.55 114.82L425.34 114.84L425.12 114.85L424.90 114.86L424.68 114.88L424.46 114.89L424.25 114.89L424.03 114.90L423.82 114.90L423.60 114.90L423.38 114.90L423.17 114.89L422.95 114.88L422.73 114.87L422.52 114.86L422.30 114.84L422.08 114.82L421.86 114.80L421.64 114.78L421.42 114.75L421.20 114.72L420.98 114.68L420.75 114.65L420.53 114.61L420.30 114.57L420.07 114.52L419.84 114.48L419.61 114.43L419.37 114.38L419.13 114.32L418.90 114.27L418.66 114.21L418.41 114.16L418.17 114.10L417.92 114.04L417.67 113.98L417.42 113.92L417.17 113.86L416.91 113.80L416.66 113.74L416.40 113.68L416.14 113.62L415.87 113.56L415.61 113.50L415.34 113.44L415.06 113.38L414.79 113.31L414.51 113.25L414.23 113.18L413.94 113.11L413.65 113.03L413.35 112.96L413.06 112.88L412.75 112.80L412.45 112.73L412.14 112.64L411.82 112.56L411.50 112.48L411.18 112.39L410.85 112.30L410.51 112.21L410.17 112.12L409.83 112.03L409.48 111.94L409.13 111.85L408.77 111.75L408.40 111.66L408.03 111.56L407.65 111.47L407.27 111.37L406.89 111.27L406.49 111.18L406.09 111.08L405.69 110.98L405.28 110.89L404.86 110.79L404.44 110.70L404.01 110.61L403.58 110.52L403.14 110.42L402.69 110.33L402.23 110.24L401.77 110.15L401.30 110.05L400.82 109.96L400.33 109.86L399.83 109.76L399.32 109.67L398.80 109.57L398.28 109.47L397.74 109.37L397.19 109.27L396.64 109.17L396.07 109.07L395.49 108.98L394.90 108.88L394.31 108.78L393.70 108.69L393.08 108.59L392.45 108.50L391.80 108.40L391.15 108.32L390.49 108.23L389.82 108.15L389.14 108.07L388.44 107.99L387.74 107.92L387.02 107.85L386.29 107.78L385.55 107.72L384.79 107.66L384.03 107.60L383.25 107.55L382.45 107.50L381.65 107.46L380.83 107.42L380.00 107.39L379.15 107.36L378.29 107.33L377.42 107.32L376.54 107.30L375.64 107.30L374.73 107.30L373.80 107.31L372.86 107.32L371.90 107.35L370.93 107.38L369.95 107.41L368.95 107.46L367.94 107.51L366.91 107.58L365.87 107.65L364.82 107.73L363.75 107.83L362.68 107.94L361.61 108.06L360.52 108.20L359.43 108.35L358.32 108.51L357.22 108.70L356.12 108.90L355.02 109.12L353.95 109.36L352.89 109.64L351.86 109.94L350.86 110.26L349.89 110.62L348.95 111.00L348.04 111.40L347.15 111.82L346.28 112.27L345.44 112.74L344.61 113.22L343.81 113.72L343.03 114.25L342.27 114.78L341.53 115.34L340.82 115.91L340.14 116.50L339.48 117.11L338.86 117.73L338.26 118.37L337.69 119.02L337.14 119.69L336.61 120.37L336.11 121.05L335.64 121.75L335.18 122.46L334.76 123.18L334.37 123.92L334.01 124.66L333.68 125.41L333.38 126.17L333.11 126.93L332.86 127.70L332.63 128.48L332.42 129.26L332.23 130.05L332.05 130.83L331.89 131.63L331.75 132.42L331.62 133.22L331.52 134.02L331.44 134.82L331.38 135.62L331.35 136.43L331.33 137.23L331.34 138.04L331.37 138.85L331.43 139.65L331.50 140.45L331.60 141.26L331.71 142.06L331.84 142.85L331.99 143.65L332.15 144.44L332.34 145.23L332.54 146.02L332.77 146.80L333.01 147.58L333.27 148.35L333.55 149.11L333.84 149.88L334.13 150.64L334.43 151.39L334.74 152.14L335.07 152.88L335.43 153.62L335.80 154.34L336.20 155.06L336.64 155.77L337.10 156.46L337.60 157.15L338.14 157.81L338.72 158.47L339.32 159.11L339.94 159.74L340.57 160.35L341.23 160.95L341.90 161.54L342.58 162.12L343.28 162.68L344.00 163.23L344.72 163.76L345.47 164.29L346.22 164.79L347.00 165.28L347.79 165.75L348.61 166.21L349.45 166.64L350.32 167.05L351.21 167.44L352.12 167.81L353.05 168.15L354.00 168.48L354.97 168.78L355.94 169.07L356.93 169.34L357.92 169.58L358.91 169.81L359.91 170.03L360.91 170.23L361.91 170.41L362.92 170.57L363.93 170.71L364.95 170.83L365.98 170.94L367.00 171.02L368.03 171.09L369.05 171.15L370.06 171.19L371.07 171.21L372.07 171.23L373.06 171.23L374.04 171.23L375.00 171.21L375.96 171.18L376.91 171.14L377.85 171.09L378.78 171.03L379.71 170.96L380.62 170.87L381.53 170.78L382.42 170.68L383.30 170.57L384.17 170.46L385.02 170.34L385.86 170.21L386.68 170.08L387.49 169.95L388.29 169.81L389.07 169.66L389.85 169.51L390.61 169.36L391.36 169.19L392.11 169.01L392.85 168.83L393.58 168.64L394.29 168.45L395.00 168.25L395.69 168.05L396.37 167.85L397.03 167.65L397.68 167.44L398.32 167.24L398.93 167.04L399.54 166.85L400.13 166.65L400.70 166.47L401.25 166.28L401.80 166.10L402.33 165.91L402.86 165.72L403.39 165.52L403.91 165.32L404.41 165.11L404.91 164.91L405.39 164.71L405.87 164.51L406.33 164.31L406.78 164.12L407.22 163.94L407.64 163.76L408.06 163.58L408.46 163.42L408.85 163.25L409.23 163.10L409.60 162.95L409.96 162.81L410.31 162.67L410.65 162.54L410.98 162.42L411.30 162.30L411.61 162.20L411.92 162.09L412.21 162.00L412.50 161.90L412.79 161.82L413.06 161.74L413.33 161.67L413.60 161.60L413.85 161.54L414.11 161.48L414.36 161.43L414.60 161.38L414.84 161.33L415.08 161.28L415.31 161.24L415.54 161.20L415.77 161.16L415.99 161.13L416.22 161.10L416.43 161.07L416.65 161.04L416.87 161.01L417.08 160.99L417.29 160.96L417.50 160.94L417.70 160.92L417.91 160.90L418.11 160.88L418.31 160.87L418.51 160.85L418.71 160.84L418.91 160.82L419.10 160.82L419.30 160.80L419.49 160.80L419.68 160.79L419.87 160.78L420.06 160.78L420.25 160.77L420.44 160.77L420.63 160.76L420.82 160.76L421.01 160.76L421.20 160.76L421.38 160.76L421.57 160.76L421.75 160.76L421.94 160.76L422.12 160.76L422.31 160.77L422.49 160.77L422.68 160.77L422.86 160.78L423.05 160.79L423.23 160.79L423.42 160.80L423.60 160.81L423.78 160.81L423.97 160.82L424.15 160.84L424.34 160.85L424.53 160.86L424.71 160.88L424.90 160.90L425.09 160.93L425.28 160.95L425.47 160.98L425.66 161.01L425.85 161.04L426.04 161.08L426.24 161.12L426.43 161.16L426.63 161.21L426.83 161.26L427.03 161.31L427.23 161.37L427.44 161.42L427.65 161.48L427.86 161.54L428.07 161.61L428.28 161.67L428.50 161.73L428.71 161.80L428.93 161.86L429.16 161.93L429.38 162.00L429.60 162.06L429.83 162.13L430.06 162.19L430.30 162.26L430.53 162.32L430.77 162.40L431.01 162.47L431.26 162.55L431.51 162.62L431.76 162.70L432.02 162.79L432.28 162.87L432.55 162.96L432.82 163.05L433.09 163.15L433.37 163.24L433.65 163.34L433.94 163.44L434.23 163.53L434.53 163.64L434.83 163.74L435.14 163.84L435.45 163.95L435.77 164.06L436.09 164.17L436.42 164.28L436.75 164.38L437.09 164.50L437.43 164.61L437.78 164.72L438.14 164.83L438.50 164.94L438.86 165.05L439.23 165.16L439.60 165.26L439.98 165.37L440.37 165.47L440.76 165.58L441.16 165.69L441.57 165.79L441.98 165.90L442.40 166.01L442.83 166.12L443.27 166.23L443.71 166.34L444.17 166.45L444.63 166.57L445.10 166.68L445.58 166.80L446.07 166.91L446.57 167.03L447.08 167.15L447.60 167.26L448.13 167.38L448.67 167.50L449.23 167.62L449.79 167.73L450.36 167.85L450.94 167.96L451.54 168.08L452.14 168.19L452.76 168.30L453.39 168.41L454.03 168.53L454.69 168.64L455.37 168.76L456.05 168.87L456.76 168.98L457.47 169.09L458.20 169.20L458.93 169.30L459.68 169.39L460.44 169.48L461.20 169.56L461.98 169.64L462.76 169.70L463.55 169.76L464.35 169.80L465.16 169.84L465.97 169.88L466.80 169.90L467.65 169.92L468.50 169.94L469.37 169.94L470.25 169.95L471.15 169.94L472.05 169.93L472.97 169.91L473.91 169.88L474.85 169.84L475.80 169.79L476.77 169.73L477.74 169.66L478.71 169.57L479.69 169.47L480.67 169.36L481.66 169.23L482.65 169.09L483.65 168.94L484.64 168.76L485.63 168.58L486.62 168.37L487.60 168.15L488.58 167.90L489.55 167.64L490.51 167.37L491.47 167.07L492.43 166.76L493.38 166.44L494.32 166.09L495.25 165.73L496.16 165.35L497.05 164.94L497.91 164.51L498.75 164.07L499.56 163.60L500.33 163.11L501.08 162.60L501.81 162.08L502.51 161.53L503.19 160.98L503.86 160.41L504.50 159.82L505.12 159.22L505.73 158.61L506.31 157.99L506.88 157.35L507.42 156.70L507.94 156.04L508.44 155.38L508.92 154.69L509.36 154.00L509.78 153.30L510.18 152.59L510.56 151.87L510.92 151.15L511.28 150.42L511.62 149.68L511.95 148.94L512.28 148.19L512.59 147.44L512.90 146.68L513.21 145.92L513.50 145.15L513.79 144.38L514.02 143.60L514.21 142.81L514.35 142.03L514.44 141.24L514.50 140.44L514.60 139.65Z" class="cv" stroke="#8B078B"/>
<circle cx="423.60" cy="139.25" r="114.30" class="outer"/>
<line x1="534.10" y1="139.25" x2="537.90" y2="139.25" class="tick"/>
<line x1="531.49" y1="110.34" x2="534.01" y2="109.67" class="mtick"/>
<line x1="519.30" y1="84.00" x2="522.59" y2="82.10" class="tick"/>
<line x1="502.58" y1="60.27" x2="504.42" y2="58.43" class="mtick"/>
<line x1="478.85" y1="43.55" x2="480.75" y2="40.26" class="tick"/>
<line x1="452.51" y1="31.36" x2="453.18" y2="28.84" class="mtick"/>
<line x1="423.60" y1="28.75" x2="423.60" y2="24.95" class="tick"/>
<line x1="394.69" y1="31.36" x2="394.02" y2="28.84" class="mtick"/>
<line x1="368.35" y1="43.55" x2="366.45" y2="40.26" class="tick"/>
<line x1="344.62" y1="60.27" x2="342.78" y2="58.43" class="mtick"/>
<line x1="327.90" y1="84.00" x2="324.61" y2="82.10" class="tick"/>
<line x1="315.71" y1="110.34" x2="313.19" y2="109.67" class="mtick"/>
<line x1="313.10" y1="139.25" x2="309.30" y2="139.25" class="tick"/>
<line x1="315.71" y1="168.16" x2="313.19" y2="168.83" class="mtick"/>
<line x1="327.90" y1="194.50" x2="324.61" y2="196.40" class="tick"/>
<line x1="344.62" y1="218.23" x2="342.78" y2="220.07" class="mtick"/>
<line x1="368.35" y1="234.95" x2="366.45" y2="238.24" class="tick"/>
<line x1="394.69" y1="247.14" x2="394.02" y2="249.66" class="mtick"/>
<line x1="423.60" y1="249.75" x2="423.60" y2="253.55" class="tick"/>
<line x1="452.51" y1="247.14" x2="453.18" y2="249.66" class="mtick"/>
<line x1="478.85" y1="234.95" x2="480.75" y2="238.24" class="tick"/>
<line x1="502.58" y1="218.23" x2="504.42" y2="220.07" class="mtick"/>
<line x1="519.30" y1="194.50" x2="522.59" y2="196.40" class="tick"/>
<line x1="531.49" y1="168.16" x2="534.01" y2="168.83" class="mtick"/>
<text transform="translate(423.60 17.63) scale(0.960 1)" font-size="11.90" text-anchor="middle">90</text>
<text transform="translate(489.10 33.83) scale(0.960 1)" font-size="11.90" text-anchor="middle">60</text>
<text transform="translate(532.40 77.43) scale(0.960 1)" font-size="11.90" text-anchor="middle">30</text>
<text transform="translate(545.30 143.23) scale(0.960 1)" font-size="11.90" text-anchor="middle">0</text>
<text transform="translate(535.20 209.53) scale(0.960 1)" font-size="11.90" text-anchor="middle">330</text>
<text transform="translate(492.10 253.13) scale(0.960 1)" font-size="11.90" text-anchor="middle">300</text>
<text transform="translate(424.00 268.53) scale(0.960 1)" font-size="11.90" text-anchor="middle">270</text>
<text transform="translate(355.60 253.13) scale(0.960 1)" font-size="11.90" text-anchor="middle">240</text>
<text transform="translate(312.40 209.53) scale(0.960 1)" font-size="11.90" text-anchor="middle">210</text>
<text transform="translate(296.50 143.13) scale(0.960 1)" font-size="11.90" text-anchor="middle">180</text>
<text transform="translate(312.80 77.43) scale(0.960 1)" font-size="11.90" text-anchor="middle">150</text>
<text transform="translate(355.90 33.93) scale(0.960 1)" font-size="11.90" text-anchor="middle">120</text>
<line x1="316.50" y1="278.20" x2="340.70" y2="278.20" stroke="#F8821C" class="lg"/><text transform="translate(343.80 281.40) scale(0.917 1)" font-size="11.45" text-anchor="start">p=50KPa</text>
<line x1="316.50" y1="290.90" x2="340.70" y2="290.90" stroke="#067D06" class="lg"/><text transform="translate(343.80 294.20) scale(0.917 1)" font-size="11.45" text-anchor="start">p=100KPa</text>
<line x1="390.30" y1="278.20" x2="415.00" y2="278.20" stroke="#07078C" class="lg"/><text transform="translate(417.60 281.40) scale(0.917 1)" font-size="11.45" text-anchor="start">p=200KPa</text>
<line x1="390.30" y1="290.90" x2="415.00" y2="290.90" stroke="#B8820F" class="lg"/><text transform="translate(417.60 294.30) scale(0.917 1)" font-size="11.45" text-anchor="start">p=300KPa</text>
<line x1="471.00" y1="275.70" x2="496.00" y2="275.70" stroke="#8B078B" class="lg"/><text transform="translate(498.50 279.30) scale(0.917 1)" font-size="11.45" text-anchor="start">p=400KPa</text>
<text transform="translate(505.80 263.80) scale(0.917 1)" font-size="11.45" text-anchor="start">Unit: mm</text>
<text x="418.0" y="320.0" font-size="14.3" text-anchor="middle">(<tspan font-weight="bold">b</tspan>)</text>
</svg>
</body></html>
